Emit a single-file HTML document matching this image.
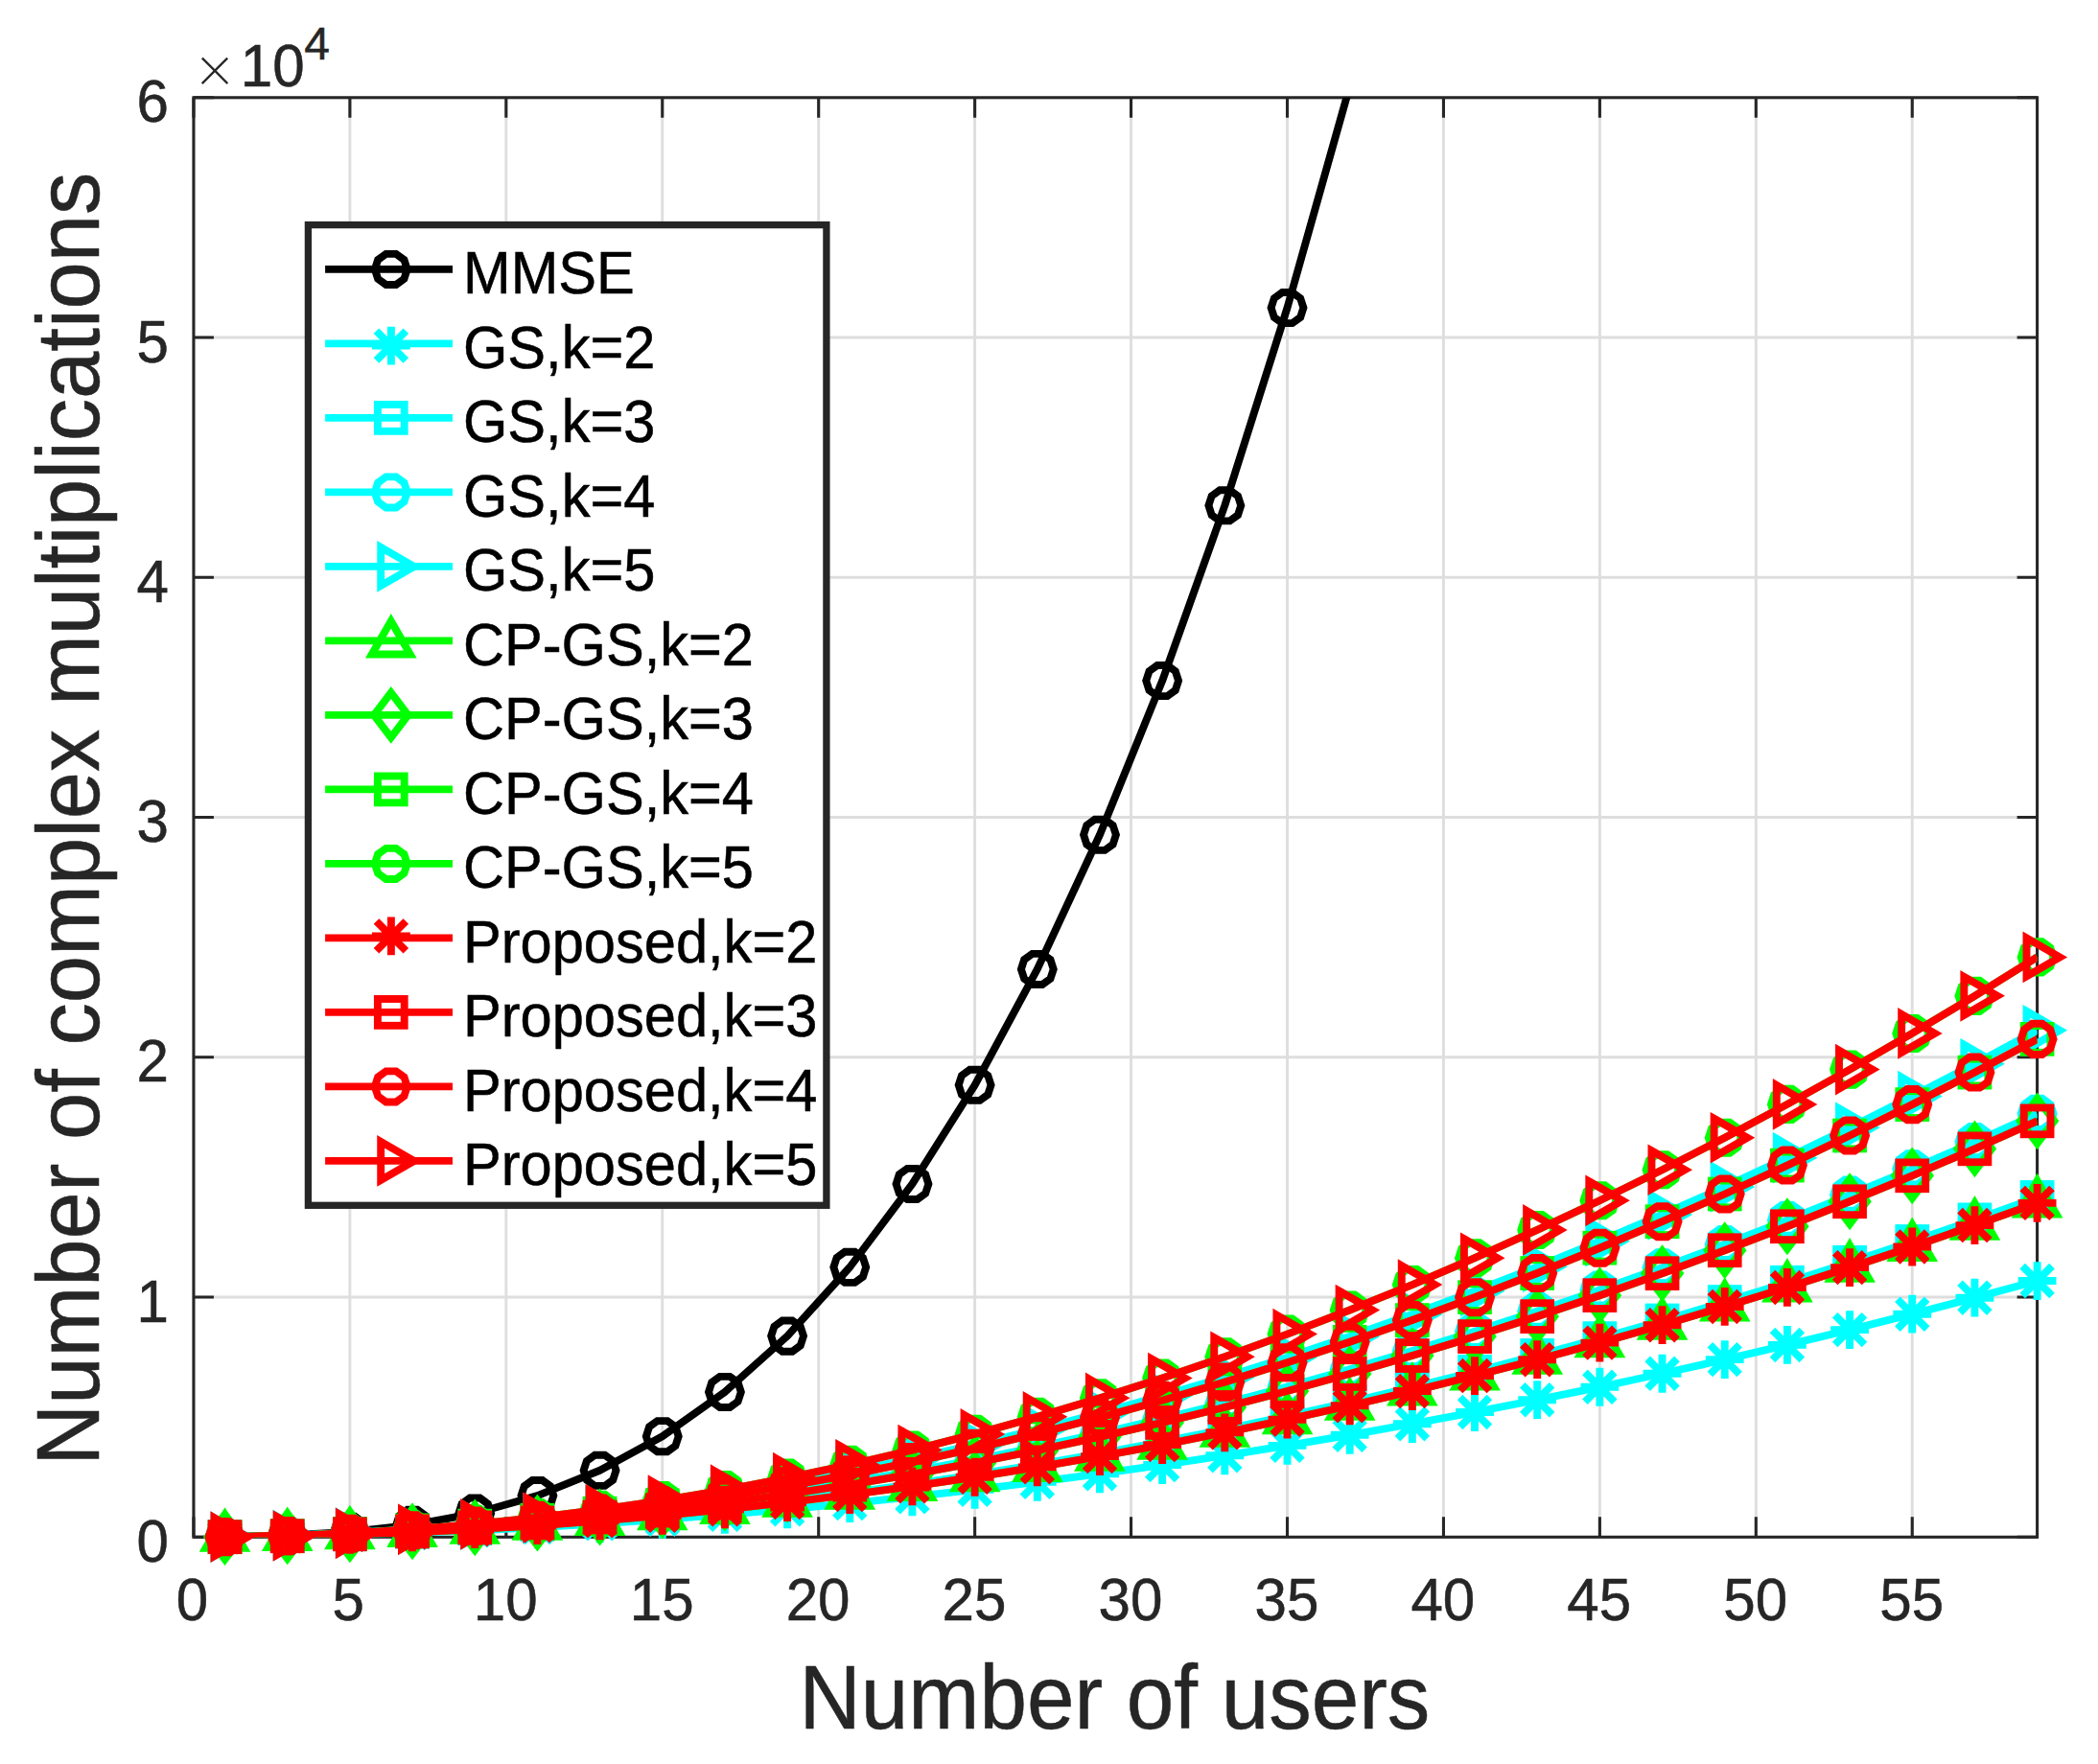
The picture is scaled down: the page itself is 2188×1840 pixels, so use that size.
<!DOCTYPE html>
<html lang="en"><head><meta charset="utf-8"><title>Number of complex multiplications vs number of users</title>
<style>html,body{margin:0;padding:0;background:#fff}body{width:2188px;height:1840px;overflow:hidden}svg{display:block}text{font-family:"Liberation Sans",Arial,Helvetica,sans-serif}</style></head><body>
<svg width="2188" height="1840" viewBox="0 0 2188 1840">
<rect width="2188" height="1840" fill="#fff"/>
<defs><clipPath id="ax"><rect x="201.95" y="101.8" width="1922.65" height="1501.5"/></clipPath></defs>
<path d="M364.89 101.8V1603.3M527.82 101.8V1603.3M690.76 101.8V1603.3M853.7 101.8V1603.3M1016.63 101.8V1603.3M1179.57 101.8V1603.3M1342.51 101.8V1603.3M1505.44 101.8V1603.3M1668.38 101.8V1603.3M1831.31 101.8V1603.3M1994.25 101.8V1603.3M201.95 1353.05H2124.6M201.95 1102.8H2124.6M201.95 852.55H2124.6M201.95 602.3H2124.6M201.95 352.05H2124.6" stroke="#dedede" stroke-width="2.9" fill="none"/>
<path d="M201.95 1603.3v-21M201.95 101.8v21M364.89 1603.3v-21M364.89 101.8v21M527.82 1603.3v-21M527.82 101.8v21M690.76 1603.3v-21M690.76 101.8v21M853.7 1603.3v-21M853.7 101.8v21M1016.63 1603.3v-21M1016.63 101.8v21M1179.57 1603.3v-21M1179.57 101.8v21M1342.51 1603.3v-21M1342.51 101.8v21M1505.44 1603.3v-21M1505.44 101.8v21M1668.38 1603.3v-21M1668.38 101.8v21M1831.31 1603.3v-21M1831.31 101.8v21M1994.25 1603.3v-21M1994.25 101.8v21M201.95 1603.3h21M2124.6 1603.3h-21M201.95 1353.05h21M2124.6 1353.05h-21M201.95 1102.8h21M2124.6 1102.8h-21M201.95 852.55h21M2124.6 852.55h-21M201.95 602.3h21M2124.6 602.3h-21M201.95 352.05h21M2124.6 352.05h-21M201.95 101.8h21M2124.6 101.8h-21" stroke="#262626" stroke-width="3.1" fill="none"/>
<rect x="201.95" y="101.8" width="1922.65" height="1501.5" fill="none" stroke="#262626" stroke-width="3.1"/>
<g><path d="M234.54 1602.93L299.71 1601.48L364.89 1597.89L430.06 1590.75L495.24 1578.64L560.41 1560.12L625.58 1533.78L690.76 1498.19L755.93 1451.94L821.11 1393.6L886.28 1321.75L951.46 1234.97L1016.63 1131.83L1081.81 1010.91L1146.98 870.79L1212.16 710.05L1277.33 527.27L1342.51 321.02L1407.68 89.88L1472.85 -167.57L1538.03 -452.76L1603.2 -767.1L1668.38 -1112.01L1733.55 -1488.93L1798.73 -1899.27L1863.9 -2344.45L1929.08 -2825.9" fill="none" stroke="#000000" stroke-width="7.9" stroke-linejoin="round" clip-path="url(#ax)"/>
<polygon points="251.44,1602.93 248.21,1612.86 239.76,1619 229.31,1619 220.86,1612.86 217.64,1602.93 220.86,1593 229.31,1586.86 239.76,1586.86 248.21,1593" fill="none" stroke="#000000" stroke-width="7.9" stroke-linejoin="miter"/>
<polygon points="316.61,1601.48 313.38,1611.41 304.93,1617.55 294.49,1617.55 286.04,1611.41 282.81,1601.48 286.04,1591.55 294.49,1585.41 304.93,1585.41 313.38,1591.55" fill="none" stroke="#000000" stroke-width="7.9" stroke-linejoin="miter"/>
<polygon points="381.79,1597.89 378.56,1607.83 370.11,1613.97 359.66,1613.97 351.21,1607.83 347.99,1597.89 351.21,1587.96 359.66,1581.82 370.11,1581.82 378.56,1587.96" fill="none" stroke="#000000" stroke-width="7.9" stroke-linejoin="miter"/>
<polygon points="446.96,1590.75 443.73,1600.69 435.28,1606.83 424.84,1606.83 416.39,1600.69 413.16,1590.75 416.39,1580.82 424.84,1574.68 435.28,1574.68 443.73,1580.82" fill="none" stroke="#000000" stroke-width="7.9" stroke-linejoin="miter"/>
<polygon points="512.14,1578.64 508.91,1588.57 500.46,1594.71 490.01,1594.71 481.56,1588.57 478.34,1578.64 481.56,1568.7 490.01,1562.56 500.46,1562.56 508.91,1568.7" fill="none" stroke="#000000" stroke-width="7.9" stroke-linejoin="miter"/>
<polygon points="577.31,1560.12 574.08,1570.05 565.63,1576.19 555.19,1576.19 546.74,1570.05 543.51,1560.12 546.74,1550.19 555.19,1544.05 565.63,1544.05 574.08,1550.19" fill="none" stroke="#000000" stroke-width="7.9" stroke-linejoin="miter"/>
<polygon points="642.48,1533.78 639.26,1543.71 630.81,1549.85 620.36,1549.85 611.91,1543.71 608.68,1533.78 611.91,1523.85 620.36,1517.71 630.81,1517.71 639.26,1523.85" fill="none" stroke="#000000" stroke-width="7.9" stroke-linejoin="miter"/>
<polygon points="707.66,1498.19 704.43,1508.13 695.98,1514.27 685.54,1514.27 677.09,1508.13 673.86,1498.19 677.09,1488.26 685.54,1482.12 695.98,1482.12 704.43,1488.26" fill="none" stroke="#000000" stroke-width="7.9" stroke-linejoin="miter"/>
<polygon points="772.83,1451.94 769.61,1461.88 761.16,1468.02 750.71,1468.02 742.26,1461.88 739.03,1451.94 742.26,1442.01 750.71,1435.87 761.16,1435.87 769.61,1442.01" fill="none" stroke="#000000" stroke-width="7.9" stroke-linejoin="miter"/>
<polygon points="838.01,1393.6 834.78,1403.54 826.33,1409.68 815.89,1409.68 807.44,1403.54 804.21,1393.6 807.44,1383.67 815.89,1377.53 826.33,1377.53 834.78,1383.67" fill="none" stroke="#000000" stroke-width="7.9" stroke-linejoin="miter"/>
<polygon points="903.18,1321.75 899.96,1331.69 891.51,1337.83 881.06,1337.83 872.61,1331.69 869.38,1321.75 872.61,1311.82 881.06,1305.68 891.51,1305.68 899.96,1311.82" fill="none" stroke="#000000" stroke-width="7.9" stroke-linejoin="miter"/>
<polygon points="968.36,1234.97 965.13,1244.9 956.68,1251.04 946.24,1251.04 937.79,1244.9 934.56,1234.97 937.79,1225.04 946.24,1218.9 956.68,1218.9 965.13,1225.04" fill="none" stroke="#000000" stroke-width="7.9" stroke-linejoin="miter"/>
<polygon points="1033.53,1131.83 1030.3,1141.76 1021.85,1147.9 1011.41,1147.9 1002.96,1141.76 999.73,1131.83 1002.96,1121.9 1011.41,1115.76 1021.85,1115.76 1030.3,1121.9" fill="none" stroke="#000000" stroke-width="7.9" stroke-linejoin="miter"/>
<polygon points="1098.71,1010.91 1095.48,1020.84 1087.03,1026.98 1076.58,1026.98 1068.13,1020.84 1064.91,1010.91 1068.13,1000.98 1076.58,994.84 1087.03,994.84 1095.48,1000.98" fill="none" stroke="#000000" stroke-width="7.9" stroke-linejoin="miter"/>
<polygon points="1163.88,870.79 1160.65,880.73 1152.2,886.87 1141.76,886.87 1133.31,880.73 1130.08,870.79 1133.31,860.86 1141.76,854.72 1152.2,854.72 1160.65,860.86" fill="none" stroke="#000000" stroke-width="7.9" stroke-linejoin="miter"/>
<polygon points="1229.06,710.05 1225.83,719.99 1217.38,726.13 1206.93,726.13 1198.48,719.99 1195.26,710.05 1198.48,700.12 1206.93,693.98 1217.38,693.98 1225.83,700.12" fill="none" stroke="#000000" stroke-width="7.9" stroke-linejoin="miter"/>
<polygon points="1294.23,527.27 1291,537.2 1282.55,543.34 1272.11,543.34 1263.66,537.2 1260.43,527.27 1263.66,517.34 1272.11,511.2 1282.55,511.2 1291,517.34" fill="none" stroke="#000000" stroke-width="7.9" stroke-linejoin="miter"/>
<polygon points="1359.41,321.02 1356.18,330.95 1347.73,337.09 1337.28,337.09 1328.83,330.95 1325.61,321.02 1328.83,311.09 1337.28,304.95 1347.73,304.95 1356.18,311.09" fill="none" stroke="#000000" stroke-width="7.9" stroke-linejoin="miter"/>
</g>
<g><path d="M234.54 1603.12L299.71 1602.32L364.89 1600.92L430.06 1598.92L495.24 1596.32L560.41 1593.11L625.58 1589.31L690.76 1584.91L755.93 1579.9L821.11 1574.3L886.28 1568.09L951.46 1561.28L1016.63 1553.88L1081.81 1545.87L1146.98 1537.26L1212.16 1528.05L1277.33 1518.24L1342.51 1507.83L1407.68 1496.82L1472.85 1485.21L1538.03 1472.99L1603.2 1460.18L1668.38 1446.77L1733.55 1432.75L1798.73 1418.14L1863.9 1402.92L1929.08 1387.11L1994.25 1370.69L2059.43 1353.68L2124.6 1336.06" fill="none" stroke="#00ffff" stroke-width="7.9" stroke-linejoin="round" clip-path="url(#ax)"/>
<path d="M214.64 1603.12H254.44M234.54 1583.22V1623.02M219.12 1587.71L249.95 1618.54M219.12 1618.54L249.95 1587.71" fill="none" stroke="#00ffff" stroke-width="7.9"/>
<path d="M279.81 1602.32H319.61M299.71 1582.42V1622.22M284.3 1586.91L315.13 1617.74M284.3 1617.74L315.13 1586.91" fill="none" stroke="#00ffff" stroke-width="7.9"/>
<path d="M344.99 1600.92H384.79M364.89 1581.02V1620.82M349.47 1585.51L380.3 1616.34M349.47 1616.34L380.3 1585.51" fill="none" stroke="#00ffff" stroke-width="7.9"/>
<path d="M410.16 1598.92H449.96M430.06 1579.02V1618.82M414.65 1583.51L445.48 1614.34M414.65 1614.34L445.48 1583.51" fill="none" stroke="#00ffff" stroke-width="7.9"/>
<path d="M475.34 1596.32H515.14M495.24 1576.42V1616.22M479.82 1580.9L510.65 1611.73M479.82 1611.73L510.65 1580.9" fill="none" stroke="#00ffff" stroke-width="7.9"/>
<path d="M540.51 1593.11H580.31M560.41 1573.21V1613.01M545 1577.7L575.83 1608.53M545 1608.53L575.83 1577.7" fill="none" stroke="#00ffff" stroke-width="7.9"/>
<path d="M605.68 1589.31H645.48M625.58 1569.41V1609.21M610.17 1573.9L641 1604.73M610.17 1604.73L641 1573.9" fill="none" stroke="#00ffff" stroke-width="7.9"/>
<path d="M670.86 1584.91H710.66M690.76 1565.01V1604.81M675.34 1569.49L706.17 1600.32M675.34 1600.32L706.17 1569.49" fill="none" stroke="#00ffff" stroke-width="7.9"/>
<path d="M736.03 1579.9H775.83M755.93 1560V1599.8M740.52 1564.49L771.35 1595.32M740.52 1595.32L771.35 1564.49" fill="none" stroke="#00ffff" stroke-width="7.9"/>
<path d="M801.21 1574.3H841.01M821.11 1554.4V1594.2M805.69 1558.88L836.52 1589.71M805.69 1589.71L836.52 1558.88" fill="none" stroke="#00ffff" stroke-width="7.9"/>
<path d="M866.38 1568.09H906.18M886.28 1548.19V1587.99M870.87 1552.67L901.7 1583.5M870.87 1583.5L901.7 1552.67" fill="none" stroke="#00ffff" stroke-width="7.9"/>
<path d="M931.56 1561.28H971.36M951.46 1541.38V1581.18M936.04 1545.87L966.87 1576.7M936.04 1576.7L966.87 1545.87" fill="none" stroke="#00ffff" stroke-width="7.9"/>
<path d="M996.73 1553.88H1036.53M1016.63 1533.98V1573.78M1001.22 1538.46L1032.05 1569.29M1001.22 1569.29L1032.05 1538.46" fill="none" stroke="#00ffff" stroke-width="7.9"/>
<path d="M1061.91 1545.87H1101.71M1081.81 1525.97V1565.77M1066.39 1530.45L1097.22 1561.28M1066.39 1561.28L1097.22 1530.45" fill="none" stroke="#00ffff" stroke-width="7.9"/>
<path d="M1127.08 1537.26H1166.88M1146.98 1517.36V1557.16M1131.57 1521.84L1162.4 1552.67M1131.57 1552.67L1162.4 1521.84" fill="none" stroke="#00ffff" stroke-width="7.9"/>
<path d="M1192.26 1528.05H1232.06M1212.16 1508.15V1547.95M1196.74 1512.63L1227.57 1543.46M1196.74 1543.46L1227.57 1512.63" fill="none" stroke="#00ffff" stroke-width="7.9"/>
<path d="M1257.43 1518.24H1297.23M1277.33 1498.34V1538.14M1261.92 1502.83L1292.75 1533.65M1261.92 1533.65L1292.75 1502.83" fill="none" stroke="#00ffff" stroke-width="7.9"/>
<path d="M1322.61 1507.83H1362.41M1342.51 1487.93V1527.73M1327.09 1492.41L1357.92 1523.24M1327.09 1523.24L1357.92 1492.41" fill="none" stroke="#00ffff" stroke-width="7.9"/>
<path d="M1387.78 1496.82H1427.58M1407.68 1476.92V1516.72M1392.26 1481.4L1423.09 1512.23M1392.26 1512.23L1423.09 1481.4" fill="none" stroke="#00ffff" stroke-width="7.9"/>
<path d="M1452.95 1485.21H1492.75M1472.85 1465.31V1505.11M1457.44 1469.79L1488.27 1500.62M1457.44 1500.62L1488.27 1469.79" fill="none" stroke="#00ffff" stroke-width="7.9"/>
<path d="M1518.13 1472.99H1557.93M1538.03 1453.09V1492.89M1522.61 1457.58L1553.44 1488.41M1522.61 1488.41L1553.44 1457.58" fill="none" stroke="#00ffff" stroke-width="7.9"/>
<path d="M1583.3 1460.18H1623.1M1603.2 1440.28V1480.08M1587.79 1444.77L1618.62 1475.6M1587.79 1475.6L1618.62 1444.77" fill="none" stroke="#00ffff" stroke-width="7.9"/>
<path d="M1648.48 1446.77H1688.28M1668.38 1426.87V1466.67M1652.96 1431.35L1683.79 1462.18M1652.96 1462.18L1683.79 1431.35" fill="none" stroke="#00ffff" stroke-width="7.9"/>
<path d="M1713.65 1432.75H1753.45M1733.55 1412.85V1452.65M1718.14 1417.34L1748.97 1448.17M1718.14 1448.17L1748.97 1417.34" fill="none" stroke="#00ffff" stroke-width="7.9"/>
<path d="M1778.83 1418.14H1818.63M1798.73 1398.24V1438.04M1783.31 1402.73L1814.14 1433.55M1783.31 1433.55L1814.14 1402.73" fill="none" stroke="#00ffff" stroke-width="7.9"/>
<path d="M1844 1402.92H1883.8M1863.9 1383.02V1422.82M1848.49 1387.51L1879.32 1418.34M1848.49 1418.34L1879.32 1387.51" fill="none" stroke="#00ffff" stroke-width="7.9"/>
<path d="M1909.18 1387.11H1948.98M1929.08 1367.21V1407.01M1913.66 1371.69L1944.49 1402.52M1913.66 1402.52L1944.49 1371.69" fill="none" stroke="#00ffff" stroke-width="7.9"/>
<path d="M1974.35 1370.69H2014.15M1994.25 1350.79V1390.59M1978.84 1355.28L2009.67 1386.11M1978.84 1386.11L2009.67 1355.28" fill="none" stroke="#00ffff" stroke-width="7.9"/>
<path d="M2039.53 1353.68H2079.33M2059.43 1333.78V1373.58M2044.01 1338.26L2074.84 1369.09M2044.01 1369.09L2074.84 1338.26" fill="none" stroke="#00ffff" stroke-width="7.9"/>
<path d="M2104.7 1336.06H2144.5M2124.6 1316.16V1355.96M2109.19 1320.64L2140.01 1351.47M2109.19 1351.47L2140.01 1320.64" fill="none" stroke="#00ffff" stroke-width="7.9"/>
</g>
<g><path d="M234.54 1603.1L299.71 1602.1L364.89 1600.3L430.06 1597.69L495.24 1594.29L560.41 1590.09L625.58 1585.08L690.76 1579.28L755.93 1572.67L821.11 1565.26L886.28 1557.05L951.46 1548.04L1016.63 1538.23L1081.81 1527.62L1146.98 1516.21L1212.16 1504L1277.33 1490.99L1342.51 1477.17L1407.68 1462.56L1472.85 1447.14L1538.03 1430.93L1603.2 1413.91L1668.38 1396.09L1733.55 1377.47L1798.73 1358.05L1863.9 1337.83L1929.08 1316.81L1994.25 1294.99L2059.43 1272.37L2124.6 1248.95" fill="none" stroke="#00ffff" stroke-width="7.9" stroke-linejoin="round" clip-path="url(#ax)"/>
<rect x="220.64" y="1589.2" width="27.8" height="27.8" fill="none" stroke="#00ffff" stroke-width="7.9"/>
<rect x="285.81" y="1588.2" width="27.8" height="27.8" fill="none" stroke="#00ffff" stroke-width="7.9"/>
<rect x="350.99" y="1586.4" width="27.8" height="27.8" fill="none" stroke="#00ffff" stroke-width="7.9"/>
<rect x="416.16" y="1583.79" width="27.8" height="27.8" fill="none" stroke="#00ffff" stroke-width="7.9"/>
<rect x="481.34" y="1580.39" width="27.8" height="27.8" fill="none" stroke="#00ffff" stroke-width="7.9"/>
<rect x="546.51" y="1576.19" width="27.8" height="27.8" fill="none" stroke="#00ffff" stroke-width="7.9"/>
<rect x="611.68" y="1571.18" width="27.8" height="27.8" fill="none" stroke="#00ffff" stroke-width="7.9"/>
<rect x="676.86" y="1565.38" width="27.8" height="27.8" fill="none" stroke="#00ffff" stroke-width="7.9"/>
<rect x="742.03" y="1558.77" width="27.8" height="27.8" fill="none" stroke="#00ffff" stroke-width="7.9"/>
<rect x="807.21" y="1551.36" width="27.8" height="27.8" fill="none" stroke="#00ffff" stroke-width="7.9"/>
<rect x="872.38" y="1543.15" width="27.8" height="27.8" fill="none" stroke="#00ffff" stroke-width="7.9"/>
<rect x="937.56" y="1534.14" width="27.8" height="27.8" fill="none" stroke="#00ffff" stroke-width="7.9"/>
<rect x="1002.73" y="1524.33" width="27.8" height="27.8" fill="none" stroke="#00ffff" stroke-width="7.9"/>
<rect x="1067.91" y="1513.72" width="27.8" height="27.8" fill="none" stroke="#00ffff" stroke-width="7.9"/>
<rect x="1133.08" y="1502.31" width="27.8" height="27.8" fill="none" stroke="#00ffff" stroke-width="7.9"/>
<rect x="1198.26" y="1490.1" width="27.8" height="27.8" fill="none" stroke="#00ffff" stroke-width="7.9"/>
<rect x="1263.43" y="1477.09" width="27.8" height="27.8" fill="none" stroke="#00ffff" stroke-width="7.9"/>
<rect x="1328.61" y="1463.27" width="27.8" height="27.8" fill="none" stroke="#00ffff" stroke-width="7.9"/>
<rect x="1393.78" y="1448.66" width="27.8" height="27.8" fill="none" stroke="#00ffff" stroke-width="7.9"/>
<rect x="1458.95" y="1433.24" width="27.8" height="27.8" fill="none" stroke="#00ffff" stroke-width="7.9"/>
<rect x="1524.13" y="1417.03" width="27.8" height="27.8" fill="none" stroke="#00ffff" stroke-width="7.9"/>
<rect x="1589.3" y="1400.01" width="27.8" height="27.8" fill="none" stroke="#00ffff" stroke-width="7.9"/>
<rect x="1654.48" y="1382.19" width="27.8" height="27.8" fill="none" stroke="#00ffff" stroke-width="7.9"/>
<rect x="1719.65" y="1363.57" width="27.8" height="27.8" fill="none" stroke="#00ffff" stroke-width="7.9"/>
<rect x="1784.83" y="1344.15" width="27.8" height="27.8" fill="none" stroke="#00ffff" stroke-width="7.9"/>
<rect x="1850" y="1323.93" width="27.8" height="27.8" fill="none" stroke="#00ffff" stroke-width="7.9"/>
<rect x="1915.18" y="1302.91" width="27.8" height="27.8" fill="none" stroke="#00ffff" stroke-width="7.9"/>
<rect x="1980.35" y="1281.09" width="27.8" height="27.8" fill="none" stroke="#00ffff" stroke-width="7.9"/>
<rect x="2045.53" y="1258.47" width="27.8" height="27.8" fill="none" stroke="#00ffff" stroke-width="7.9"/>
<rect x="2110.7" y="1235.05" width="27.8" height="27.8" fill="none" stroke="#00ffff" stroke-width="7.9"/>
</g>
<g><path d="M234.54 1603.07L299.71 1601.87L364.89 1599.67L430.06 1596.47L495.24 1592.26L560.41 1587.06L625.58 1580.85L690.76 1573.65L755.93 1565.44L821.11 1556.23L886.28 1546.02L951.46 1534.81L1016.63 1522.59L1081.81 1509.38L1146.98 1495.17L1212.16 1479.95L1277.33 1463.74L1342.51 1446.52L1407.68 1428.3L1472.85 1409.08L1538.03 1388.86L1603.2 1367.64L1668.38 1345.42L1733.55 1322.19L1798.73 1297.97L1863.9 1272.74L1929.08 1246.52L1994.25 1219.29L2059.43 1191.06L2124.6 1161.83" fill="none" stroke="#00ffff" stroke-width="7.9" stroke-linejoin="round" clip-path="url(#ax)"/>
<polygon points="251.44,1603.07 248.21,1613.01 239.76,1619.15 229.31,1619.15 220.86,1613.01 217.64,1603.07 220.86,1593.14 229.31,1587 239.76,1587 248.21,1593.14" fill="none" stroke="#00ffff" stroke-width="7.9" stroke-linejoin="miter"/>
<polygon points="316.61,1601.87 313.38,1611.81 304.93,1617.95 294.49,1617.95 286.04,1611.81 282.81,1601.87 286.04,1591.94 294.49,1585.8 304.93,1585.8 313.38,1591.94" fill="none" stroke="#00ffff" stroke-width="7.9" stroke-linejoin="miter"/>
<polygon points="381.79,1599.67 378.56,1609.6 370.11,1615.74 359.66,1615.74 351.21,1609.6 347.99,1599.67 351.21,1589.74 359.66,1583.6 370.11,1583.6 378.56,1589.74" fill="none" stroke="#00ffff" stroke-width="7.9" stroke-linejoin="miter"/>
<polygon points="446.96,1596.47 443.73,1606.4 435.28,1612.54 424.84,1612.54 416.39,1606.4 413.16,1596.47 416.39,1586.53 424.84,1580.4 435.28,1580.4 443.73,1586.53" fill="none" stroke="#00ffff" stroke-width="7.9" stroke-linejoin="miter"/>
<polygon points="512.14,1592.26 508.91,1602.2 500.46,1608.34 490.01,1608.34 481.56,1602.2 478.34,1592.26 481.56,1582.33 490.01,1576.19 500.46,1576.19 508.91,1582.33" fill="none" stroke="#00ffff" stroke-width="7.9" stroke-linejoin="miter"/>
<polygon points="577.31,1587.06 574.08,1596.99 565.63,1603.13 555.19,1603.13 546.74,1596.99 543.51,1587.06 546.74,1577.13 555.19,1570.99 565.63,1570.99 574.08,1577.13" fill="none" stroke="#00ffff" stroke-width="7.9" stroke-linejoin="miter"/>
<polygon points="642.48,1580.85 639.26,1590.79 630.81,1596.93 620.36,1596.93 611.91,1590.79 608.68,1580.85 611.91,1570.92 620.36,1564.78 630.81,1564.78 639.26,1570.92" fill="none" stroke="#00ffff" stroke-width="7.9" stroke-linejoin="miter"/>
<polygon points="707.66,1573.65 704.43,1583.58 695.98,1589.72 685.54,1589.72 677.09,1583.58 673.86,1573.65 677.09,1563.71 685.54,1557.57 695.98,1557.57 704.43,1563.71" fill="none" stroke="#00ffff" stroke-width="7.9" stroke-linejoin="miter"/>
<polygon points="772.83,1565.44 769.61,1575.37 761.16,1581.51 750.71,1581.51 742.26,1575.37 739.03,1565.44 742.26,1555.5 750.71,1549.36 761.16,1549.36 769.61,1555.5" fill="none" stroke="#00ffff" stroke-width="7.9" stroke-linejoin="miter"/>
<polygon points="838.01,1556.23 834.78,1566.16 826.33,1572.3 815.89,1572.3 807.44,1566.16 804.21,1556.23 807.44,1546.29 815.89,1540.16 826.33,1540.16 834.78,1546.29" fill="none" stroke="#00ffff" stroke-width="7.9" stroke-linejoin="miter"/>
<polygon points="903.18,1546.02 899.96,1555.95 891.51,1562.09 881.06,1562.09 872.61,1555.95 869.38,1546.02 872.61,1536.08 881.06,1529.94 891.51,1529.94 899.96,1536.08" fill="none" stroke="#00ffff" stroke-width="7.9" stroke-linejoin="miter"/>
<polygon points="968.36,1534.81 965.13,1544.74 956.68,1550.88 946.24,1550.88 937.79,1544.74 934.56,1534.81 937.79,1524.87 946.24,1518.73 956.68,1518.73 965.13,1524.87" fill="none" stroke="#00ffff" stroke-width="7.9" stroke-linejoin="miter"/>
<polygon points="1033.53,1522.59 1030.3,1532.53 1021.85,1538.67 1011.41,1538.67 1002.96,1532.53 999.73,1522.59 1002.96,1512.66 1011.41,1506.52 1021.85,1506.52 1030.3,1512.66" fill="none" stroke="#00ffff" stroke-width="7.9" stroke-linejoin="miter"/>
<polygon points="1098.71,1509.38 1095.48,1519.31 1087.03,1525.45 1076.58,1525.45 1068.13,1519.31 1064.91,1509.38 1068.13,1499.45 1076.58,1493.31 1087.03,1493.31 1095.48,1499.45" fill="none" stroke="#00ffff" stroke-width="7.9" stroke-linejoin="miter"/>
<polygon points="1163.88,1495.17 1160.65,1505.1 1152.2,1511.24 1141.76,1511.24 1133.31,1505.1 1130.08,1495.17 1133.31,1485.23 1141.76,1479.09 1152.2,1479.09 1160.65,1485.23" fill="none" stroke="#00ffff" stroke-width="7.9" stroke-linejoin="miter"/>
<polygon points="1229.06,1479.95 1225.83,1489.89 1217.38,1496.02 1206.93,1496.02 1198.48,1489.89 1195.26,1479.95 1198.48,1470.02 1206.93,1463.88 1217.38,1463.88 1225.83,1470.02" fill="none" stroke="#00ffff" stroke-width="7.9" stroke-linejoin="miter"/>
<polygon points="1294.23,1463.74 1291,1473.67 1282.55,1479.81 1272.11,1479.81 1263.66,1473.67 1260.43,1463.74 1263.66,1453.8 1272.11,1447.66 1282.55,1447.66 1291,1453.8" fill="none" stroke="#00ffff" stroke-width="7.9" stroke-linejoin="miter"/>
<polygon points="1359.41,1446.52 1356.18,1456.45 1347.73,1462.59 1337.28,1462.59 1328.83,1456.45 1325.61,1446.52 1328.83,1436.58 1337.28,1430.45 1347.73,1430.45 1356.18,1436.58" fill="none" stroke="#00ffff" stroke-width="7.9" stroke-linejoin="miter"/>
<polygon points="1424.58,1428.3 1421.35,1438.23 1412.9,1444.37 1402.46,1444.37 1394.01,1438.23 1390.78,1428.3 1394.01,1418.37 1402.46,1412.23 1412.9,1412.23 1421.35,1418.37" fill="none" stroke="#00ffff" stroke-width="7.9" stroke-linejoin="miter"/>
<polygon points="1489.75,1409.08 1486.53,1419.01 1478.08,1425.15 1467.63,1425.15 1459.18,1419.01 1455.95,1409.08 1459.18,1399.15 1467.63,1393.01 1478.08,1393.01 1486.53,1399.15" fill="none" stroke="#00ffff" stroke-width="7.9" stroke-linejoin="miter"/>
<polygon points="1554.93,1388.86 1551.7,1398.79 1543.25,1404.93 1532.81,1404.93 1524.36,1398.79 1521.13,1388.86 1524.36,1378.93 1532.81,1372.79 1543.25,1372.79 1551.7,1378.93" fill="none" stroke="#00ffff" stroke-width="7.9" stroke-linejoin="miter"/>
<polygon points="1620.1,1367.64 1616.88,1377.57 1608.43,1383.71 1597.98,1383.71 1589.53,1377.57 1586.3,1367.64 1589.53,1357.71 1597.98,1351.57 1608.43,1351.57 1616.88,1357.71" fill="none" stroke="#00ffff" stroke-width="7.9" stroke-linejoin="miter"/>
<polygon points="1685.28,1345.42 1682.05,1355.35 1673.6,1361.49 1663.16,1361.49 1654.71,1355.35 1651.48,1345.42 1654.71,1335.48 1663.16,1329.34 1673.6,1329.34 1682.05,1335.48" fill="none" stroke="#00ffff" stroke-width="7.9" stroke-linejoin="miter"/>
<polygon points="1750.45,1322.19 1747.22,1332.13 1738.77,1338.27 1728.33,1338.27 1719.88,1332.13 1716.65,1322.19 1719.88,1312.26 1728.33,1306.12 1738.77,1306.12 1747.22,1312.26" fill="none" stroke="#00ffff" stroke-width="7.9" stroke-linejoin="miter"/>
<polygon points="1815.63,1297.97 1812.4,1307.9 1803.95,1314.04 1793.5,1314.04 1785.05,1307.9 1781.83,1297.97 1785.05,1288.04 1793.5,1281.9 1803.95,1281.9 1812.4,1288.04" fill="none" stroke="#00ffff" stroke-width="7.9" stroke-linejoin="miter"/>
<polygon points="1880.8,1272.74 1877.57,1282.68 1869.12,1288.82 1858.68,1288.82 1850.23,1282.68 1847,1272.74 1850.23,1262.81 1858.68,1256.67 1869.12,1256.67 1877.57,1262.81" fill="none" stroke="#00ffff" stroke-width="7.9" stroke-linejoin="miter"/>
<polygon points="1945.98,1246.52 1942.75,1256.45 1934.3,1262.59 1923.85,1262.59 1915.4,1256.45 1912.18,1246.52 1915.4,1236.59 1923.85,1230.45 1934.3,1230.45 1942.75,1236.59" fill="none" stroke="#00ffff" stroke-width="7.9" stroke-linejoin="miter"/>
<polygon points="2011.15,1219.29 2007.92,1229.22 1999.47,1235.36 1989.03,1235.36 1980.58,1229.22 1977.35,1219.29 1980.58,1209.36 1989.03,1203.22 1999.47,1203.22 2007.92,1209.36" fill="none" stroke="#00ffff" stroke-width="7.9" stroke-linejoin="miter"/>
<polygon points="2076.33,1191.06 2073.1,1201 2064.65,1207.14 2054.2,1207.14 2045.75,1201 2042.53,1191.06 2045.75,1181.13 2054.2,1174.99 2064.65,1174.99 2073.1,1181.13" fill="none" stroke="#00ffff" stroke-width="7.9" stroke-linejoin="miter"/>
<polygon points="2141.5,1161.83 2138.27,1171.77 2129.82,1177.91 2119.38,1177.91 2110.93,1171.77 2107.7,1161.83 2110.93,1151.9 2119.38,1145.76 2129.82,1145.76 2138.27,1151.9" fill="none" stroke="#00ffff" stroke-width="7.9" stroke-linejoin="miter"/>
</g>
<g><path d="M234.54 1603.05L299.71 1601.65L364.89 1599.05L430.06 1595.24L495.24 1590.24L560.41 1584.03L625.58 1576.62L690.76 1568.01L755.93 1558.2L821.11 1547.19L886.28 1534.98L951.46 1521.57L1016.63 1506.95L1081.81 1491.14L1146.98 1474.12L1212.16 1455.9L1277.33 1436.48L1342.51 1415.86L1407.68 1394.04L1472.85 1371.02L1538.03 1346.79L1603.2 1321.37L1668.38 1294.74L1733.55 1266.91L1798.73 1237.88L1863.9 1207.65L1929.08 1176.22L1994.25 1143.59L2059.43 1109.76L2124.6 1074.72" fill="none" stroke="#00ffff" stroke-width="7.9" stroke-linejoin="round" clip-path="url(#ax)"/>
<polygon points="223.44,1583.05 258.14,1603.05 223.44,1623.05" fill="none" stroke="#00ffff" stroke-width="7.9" stroke-linejoin="miter" stroke-miterlimit="10"/>
<polygon points="288.61,1581.65 323.31,1601.65 288.61,1621.65" fill="none" stroke="#00ffff" stroke-width="7.9" stroke-linejoin="miter" stroke-miterlimit="10"/>
<polygon points="353.79,1579.05 388.49,1599.05 353.79,1619.05" fill="none" stroke="#00ffff" stroke-width="7.9" stroke-linejoin="miter" stroke-miterlimit="10"/>
<polygon points="418.96,1575.24 453.66,1595.24 418.96,1615.24" fill="none" stroke="#00ffff" stroke-width="7.9" stroke-linejoin="miter" stroke-miterlimit="10"/>
<polygon points="484.14,1570.24 518.84,1590.24 484.14,1610.24" fill="none" stroke="#00ffff" stroke-width="7.9" stroke-linejoin="miter" stroke-miterlimit="10"/>
<polygon points="549.31,1564.03 584.01,1584.03 549.31,1604.03" fill="none" stroke="#00ffff" stroke-width="7.9" stroke-linejoin="miter" stroke-miterlimit="10"/>
<polygon points="614.48,1556.62 649.18,1576.62 614.48,1596.62" fill="none" stroke="#00ffff" stroke-width="7.9" stroke-linejoin="miter" stroke-miterlimit="10"/>
<polygon points="679.66,1548.01 714.36,1568.01 679.66,1588.01" fill="none" stroke="#00ffff" stroke-width="7.9" stroke-linejoin="miter" stroke-miterlimit="10"/>
<polygon points="744.83,1538.2 779.53,1558.2 744.83,1578.2" fill="none" stroke="#00ffff" stroke-width="7.9" stroke-linejoin="miter" stroke-miterlimit="10"/>
<polygon points="810.01,1527.19 844.71,1547.19 810.01,1567.19" fill="none" stroke="#00ffff" stroke-width="7.9" stroke-linejoin="miter" stroke-miterlimit="10"/>
<polygon points="875.18,1514.98 909.88,1534.98 875.18,1554.98" fill="none" stroke="#00ffff" stroke-width="7.9" stroke-linejoin="miter" stroke-miterlimit="10"/>
<polygon points="940.36,1501.57 975.06,1521.57 940.36,1541.57" fill="none" stroke="#00ffff" stroke-width="7.9" stroke-linejoin="miter" stroke-miterlimit="10"/>
<polygon points="1005.53,1486.95 1040.23,1506.95 1005.53,1526.95" fill="none" stroke="#00ffff" stroke-width="7.9" stroke-linejoin="miter" stroke-miterlimit="10"/>
<polygon points="1070.71,1471.14 1105.41,1491.14 1070.71,1511.14" fill="none" stroke="#00ffff" stroke-width="7.9" stroke-linejoin="miter" stroke-miterlimit="10"/>
<polygon points="1135.88,1454.12 1170.58,1474.12 1135.88,1494.12" fill="none" stroke="#00ffff" stroke-width="7.9" stroke-linejoin="miter" stroke-miterlimit="10"/>
<polygon points="1201.06,1435.9 1235.76,1455.9 1201.06,1475.9" fill="none" stroke="#00ffff" stroke-width="7.9" stroke-linejoin="miter" stroke-miterlimit="10"/>
<polygon points="1266.23,1416.48 1300.93,1436.48 1266.23,1456.48" fill="none" stroke="#00ffff" stroke-width="7.9" stroke-linejoin="miter" stroke-miterlimit="10"/>
<polygon points="1331.41,1395.86 1366.11,1415.86 1331.41,1435.86" fill="none" stroke="#00ffff" stroke-width="7.9" stroke-linejoin="miter" stroke-miterlimit="10"/>
<polygon points="1396.58,1374.04 1431.28,1394.04 1396.58,1414.04" fill="none" stroke="#00ffff" stroke-width="7.9" stroke-linejoin="miter" stroke-miterlimit="10"/>
<polygon points="1461.75,1351.02 1496.45,1371.02 1461.75,1391.02" fill="none" stroke="#00ffff" stroke-width="7.9" stroke-linejoin="miter" stroke-miterlimit="10"/>
<polygon points="1526.93,1326.79 1561.63,1346.79 1526.93,1366.79" fill="none" stroke="#00ffff" stroke-width="7.9" stroke-linejoin="miter" stroke-miterlimit="10"/>
<polygon points="1592.1,1301.37 1626.8,1321.37 1592.1,1341.37" fill="none" stroke="#00ffff" stroke-width="7.9" stroke-linejoin="miter" stroke-miterlimit="10"/>
<polygon points="1657.28,1274.74 1691.98,1294.74 1657.28,1314.74" fill="none" stroke="#00ffff" stroke-width="7.9" stroke-linejoin="miter" stroke-miterlimit="10"/>
<polygon points="1722.45,1246.91 1757.15,1266.91 1722.45,1286.91" fill="none" stroke="#00ffff" stroke-width="7.9" stroke-linejoin="miter" stroke-miterlimit="10"/>
<polygon points="1787.63,1217.88 1822.33,1237.88 1787.63,1257.88" fill="none" stroke="#00ffff" stroke-width="7.9" stroke-linejoin="miter" stroke-miterlimit="10"/>
<polygon points="1852.8,1187.65 1887.5,1207.65 1852.8,1227.65" fill="none" stroke="#00ffff" stroke-width="7.9" stroke-linejoin="miter" stroke-miterlimit="10"/>
<polygon points="1917.98,1156.22 1952.68,1176.22 1917.98,1196.22" fill="none" stroke="#00ffff" stroke-width="7.9" stroke-linejoin="miter" stroke-miterlimit="10"/>
<polygon points="1983.15,1123.59 2017.85,1143.59 1983.15,1163.59" fill="none" stroke="#00ffff" stroke-width="7.9" stroke-linejoin="miter" stroke-miterlimit="10"/>
<polygon points="2048.33,1089.76 2083.03,1109.76 2048.33,1129.76" fill="none" stroke="#00ffff" stroke-width="7.9" stroke-linejoin="miter" stroke-miterlimit="10"/>
<polygon points="2113.5,1054.72 2148.2,1074.72 2113.5,1094.72" fill="none" stroke="#00ffff" stroke-width="7.9" stroke-linejoin="miter" stroke-miterlimit="10"/>
</g>
<g><path d="M234.54 1603.2L299.71 1602.4L364.89 1600.8L430.06 1598.4L495.24 1595.19L560.41 1591.19L625.58 1586.38L690.76 1580.78L755.93 1574.37L821.11 1567.16L886.28 1559.16L951.46 1550.35L1016.63 1540.74L1081.81 1530.33L1146.98 1519.12L1212.16 1507.1L1277.33 1494.29L1342.51 1480.68L1407.68 1466.26L1472.85 1451.05L1538.03 1435.03L1603.2 1418.22L1668.38 1400.6L1733.55 1382.18L1798.73 1362.96L1863.9 1342.94L1929.08 1322.12L1994.25 1300.5L2059.43 1278.08L2124.6 1254.85" fill="none" stroke="#00ff00" stroke-width="7.9" stroke-linejoin="round" clip-path="url(#ax)"/>
<polygon points="214.54,1614.8 234.54,1580.1 254.54,1614.8" fill="none" stroke="#00ff00" stroke-width="7.9" stroke-linejoin="miter" stroke-miterlimit="10"/>
<polygon points="279.71,1614 299.71,1579.3 319.71,1614" fill="none" stroke="#00ff00" stroke-width="7.9" stroke-linejoin="miter" stroke-miterlimit="10"/>
<polygon points="344.89,1612.4 364.89,1577.7 384.89,1612.4" fill="none" stroke="#00ff00" stroke-width="7.9" stroke-linejoin="miter" stroke-miterlimit="10"/>
<polygon points="410.06,1610 430.06,1575.3 450.06,1610" fill="none" stroke="#00ff00" stroke-width="7.9" stroke-linejoin="miter" stroke-miterlimit="10"/>
<polygon points="475.24,1606.79 495.24,1572.09 515.24,1606.79" fill="none" stroke="#00ff00" stroke-width="7.9" stroke-linejoin="miter" stroke-miterlimit="10"/>
<polygon points="540.41,1602.79 560.41,1568.09 580.41,1602.79" fill="none" stroke="#00ff00" stroke-width="7.9" stroke-linejoin="miter" stroke-miterlimit="10"/>
<polygon points="605.58,1597.98 625.58,1563.28 645.58,1597.98" fill="none" stroke="#00ff00" stroke-width="7.9" stroke-linejoin="miter" stroke-miterlimit="10"/>
<polygon points="670.76,1592.38 690.76,1557.68 710.76,1592.38" fill="none" stroke="#00ff00" stroke-width="7.9" stroke-linejoin="miter" stroke-miterlimit="10"/>
<polygon points="735.93,1585.97 755.93,1551.27 775.93,1585.97" fill="none" stroke="#00ff00" stroke-width="7.9" stroke-linejoin="miter" stroke-miterlimit="10"/>
<polygon points="801.11,1578.76 821.11,1544.06 841.11,1578.76" fill="none" stroke="#00ff00" stroke-width="7.9" stroke-linejoin="miter" stroke-miterlimit="10"/>
<polygon points="866.28,1570.76 886.28,1536.06 906.28,1570.76" fill="none" stroke="#00ff00" stroke-width="7.9" stroke-linejoin="miter" stroke-miterlimit="10"/>
<polygon points="931.46,1561.95 951.46,1527.25 971.46,1561.95" fill="none" stroke="#00ff00" stroke-width="7.9" stroke-linejoin="miter" stroke-miterlimit="10"/>
<polygon points="996.63,1552.34 1016.63,1517.64 1036.63,1552.34" fill="none" stroke="#00ff00" stroke-width="7.9" stroke-linejoin="miter" stroke-miterlimit="10"/>
<polygon points="1061.81,1541.93 1081.81,1507.23 1101.81,1541.93" fill="none" stroke="#00ff00" stroke-width="7.9" stroke-linejoin="miter" stroke-miterlimit="10"/>
<polygon points="1126.98,1530.72 1146.98,1496.02 1166.98,1530.72" fill="none" stroke="#00ff00" stroke-width="7.9" stroke-linejoin="miter" stroke-miterlimit="10"/>
<polygon points="1192.16,1518.7 1212.16,1484 1232.16,1518.7" fill="none" stroke="#00ff00" stroke-width="7.9" stroke-linejoin="miter" stroke-miterlimit="10"/>
<polygon points="1257.33,1505.89 1277.33,1471.19 1297.33,1505.89" fill="none" stroke="#00ff00" stroke-width="7.9" stroke-linejoin="miter" stroke-miterlimit="10"/>
<polygon points="1322.51,1492.28 1342.51,1457.58 1362.51,1492.28" fill="none" stroke="#00ff00" stroke-width="7.9" stroke-linejoin="miter" stroke-miterlimit="10"/>
<polygon points="1387.68,1477.86 1407.68,1443.16 1427.68,1477.86" fill="none" stroke="#00ff00" stroke-width="7.9" stroke-linejoin="miter" stroke-miterlimit="10"/>
<polygon points="1452.85,1462.65 1472.85,1427.95 1492.85,1462.65" fill="none" stroke="#00ff00" stroke-width="7.9" stroke-linejoin="miter" stroke-miterlimit="10"/>
<polygon points="1518.03,1446.63 1538.03,1411.93 1558.03,1446.63" fill="none" stroke="#00ff00" stroke-width="7.9" stroke-linejoin="miter" stroke-miterlimit="10"/>
<polygon points="1583.2,1429.82 1603.2,1395.12 1623.2,1429.82" fill="none" stroke="#00ff00" stroke-width="7.9" stroke-linejoin="miter" stroke-miterlimit="10"/>
<polygon points="1648.38,1412.2 1668.38,1377.5 1688.38,1412.2" fill="none" stroke="#00ff00" stroke-width="7.9" stroke-linejoin="miter" stroke-miterlimit="10"/>
<polygon points="1713.55,1393.78 1733.55,1359.08 1753.55,1393.78" fill="none" stroke="#00ff00" stroke-width="7.9" stroke-linejoin="miter" stroke-miterlimit="10"/>
<polygon points="1778.73,1374.56 1798.73,1339.86 1818.73,1374.56" fill="none" stroke="#00ff00" stroke-width="7.9" stroke-linejoin="miter" stroke-miterlimit="10"/>
<polygon points="1843.9,1354.54 1863.9,1319.84 1883.9,1354.54" fill="none" stroke="#00ff00" stroke-width="7.9" stroke-linejoin="miter" stroke-miterlimit="10"/>
<polygon points="1909.08,1333.72 1929.08,1299.02 1949.08,1333.72" fill="none" stroke="#00ff00" stroke-width="7.9" stroke-linejoin="miter" stroke-miterlimit="10"/>
<polygon points="1974.25,1312.1 1994.25,1277.4 2014.25,1312.1" fill="none" stroke="#00ff00" stroke-width="7.9" stroke-linejoin="miter" stroke-miterlimit="10"/>
<polygon points="2039.43,1289.68 2059.43,1254.98 2079.43,1289.68" fill="none" stroke="#00ff00" stroke-width="7.9" stroke-linejoin="miter" stroke-miterlimit="10"/>
<polygon points="2104.6,1266.45 2124.6,1231.75 2144.6,1266.45" fill="none" stroke="#00ff00" stroke-width="7.9" stroke-linejoin="miter" stroke-miterlimit="10"/>
</g>
<g><path d="M234.54 1603.2L299.71 1602.26L364.89 1600.31L430.06 1597.36L495.24 1593.41L560.41 1588.46L625.58 1582.51L690.76 1575.56L755.93 1567.61L821.11 1558.65L886.28 1548.7L951.46 1537.74L1016.63 1525.79L1081.81 1512.83L1146.98 1498.87L1212.16 1483.91L1277.33 1467.95L1342.51 1450.99L1407.68 1433.02L1472.85 1414.06L1538.03 1394.09L1603.2 1373.13L1668.38 1351.16L1733.55 1328.19L1798.73 1304.22L1863.9 1279.25L1929.08 1253.28L1994.25 1226.31L2059.43 1198.34L2124.6 1169.36" fill="none" stroke="#00ff00" stroke-width="7.9" stroke-linejoin="round" clip-path="url(#ax)"/>
<polygon points="216.74,1603.2 234.54,1579.8 252.34,1603.2 234.54,1626.6" fill="none" stroke="#00ff00" stroke-width="7.9" stroke-linejoin="miter" stroke-miterlimit="10"/>
<polygon points="281.91,1602.26 299.71,1578.86 317.51,1602.26 299.71,1625.66" fill="none" stroke="#00ff00" stroke-width="7.9" stroke-linejoin="miter" stroke-miterlimit="10"/>
<polygon points="347.09,1600.31 364.89,1576.91 382.69,1600.31 364.89,1623.71" fill="none" stroke="#00ff00" stroke-width="7.9" stroke-linejoin="miter" stroke-miterlimit="10"/>
<polygon points="412.26,1597.36 430.06,1573.96 447.86,1597.36 430.06,1620.76" fill="none" stroke="#00ff00" stroke-width="7.9" stroke-linejoin="miter" stroke-miterlimit="10"/>
<polygon points="477.44,1593.41 495.24,1570.01 513.04,1593.41 495.24,1616.81" fill="none" stroke="#00ff00" stroke-width="7.9" stroke-linejoin="miter" stroke-miterlimit="10"/>
<polygon points="542.61,1588.46 560.41,1565.06 578.21,1588.46 560.41,1611.86" fill="none" stroke="#00ff00" stroke-width="7.9" stroke-linejoin="miter" stroke-miterlimit="10"/>
<polygon points="607.78,1582.51 625.58,1559.11 643.38,1582.51 625.58,1605.91" fill="none" stroke="#00ff00" stroke-width="7.9" stroke-linejoin="miter" stroke-miterlimit="10"/>
<polygon points="672.96,1575.56 690.76,1552.16 708.56,1575.56 690.76,1598.96" fill="none" stroke="#00ff00" stroke-width="7.9" stroke-linejoin="miter" stroke-miterlimit="10"/>
<polygon points="738.13,1567.61 755.93,1544.21 773.73,1567.61 755.93,1591.01" fill="none" stroke="#00ff00" stroke-width="7.9" stroke-linejoin="miter" stroke-miterlimit="10"/>
<polygon points="803.31,1558.65 821.11,1535.25 838.91,1558.65 821.11,1582.05" fill="none" stroke="#00ff00" stroke-width="7.9" stroke-linejoin="miter" stroke-miterlimit="10"/>
<polygon points="868.48,1548.7 886.28,1525.3 904.08,1548.7 886.28,1572.1" fill="none" stroke="#00ff00" stroke-width="7.9" stroke-linejoin="miter" stroke-miterlimit="10"/>
<polygon points="933.66,1537.74 951.46,1514.34 969.26,1537.74 951.46,1561.14" fill="none" stroke="#00ff00" stroke-width="7.9" stroke-linejoin="miter" stroke-miterlimit="10"/>
<polygon points="998.83,1525.79 1016.63,1502.39 1034.43,1525.79 1016.63,1549.19" fill="none" stroke="#00ff00" stroke-width="7.9" stroke-linejoin="miter" stroke-miterlimit="10"/>
<polygon points="1064.01,1512.83 1081.81,1489.43 1099.61,1512.83 1081.81,1536.23" fill="none" stroke="#00ff00" stroke-width="7.9" stroke-linejoin="miter" stroke-miterlimit="10"/>
<polygon points="1129.18,1498.87 1146.98,1475.47 1164.78,1498.87 1146.98,1522.27" fill="none" stroke="#00ff00" stroke-width="7.9" stroke-linejoin="miter" stroke-miterlimit="10"/>
<polygon points="1194.36,1483.91 1212.16,1460.51 1229.96,1483.91 1212.16,1507.31" fill="none" stroke="#00ff00" stroke-width="7.9" stroke-linejoin="miter" stroke-miterlimit="10"/>
<polygon points="1259.53,1467.95 1277.33,1444.55 1295.13,1467.95 1277.33,1491.35" fill="none" stroke="#00ff00" stroke-width="7.9" stroke-linejoin="miter" stroke-miterlimit="10"/>
<polygon points="1324.71,1450.99 1342.51,1427.59 1360.31,1450.99 1342.51,1474.39" fill="none" stroke="#00ff00" stroke-width="7.9" stroke-linejoin="miter" stroke-miterlimit="10"/>
<polygon points="1389.88,1433.02 1407.68,1409.62 1425.48,1433.02 1407.68,1456.42" fill="none" stroke="#00ff00" stroke-width="7.9" stroke-linejoin="miter" stroke-miterlimit="10"/>
<polygon points="1455.05,1414.06 1472.85,1390.66 1490.65,1414.06 1472.85,1437.46" fill="none" stroke="#00ff00" stroke-width="7.9" stroke-linejoin="miter" stroke-miterlimit="10"/>
<polygon points="1520.23,1394.09 1538.03,1370.69 1555.83,1394.09 1538.03,1417.49" fill="none" stroke="#00ff00" stroke-width="7.9" stroke-linejoin="miter" stroke-miterlimit="10"/>
<polygon points="1585.4,1373.13 1603.2,1349.73 1621,1373.13 1603.2,1396.53" fill="none" stroke="#00ff00" stroke-width="7.9" stroke-linejoin="miter" stroke-miterlimit="10"/>
<polygon points="1650.58,1351.16 1668.38,1327.76 1686.18,1351.16 1668.38,1374.56" fill="none" stroke="#00ff00" stroke-width="7.9" stroke-linejoin="miter" stroke-miterlimit="10"/>
<polygon points="1715.75,1328.19 1733.55,1304.79 1751.35,1328.19 1733.55,1351.59" fill="none" stroke="#00ff00" stroke-width="7.9" stroke-linejoin="miter" stroke-miterlimit="10"/>
<polygon points="1780.93,1304.22 1798.73,1280.82 1816.53,1304.22 1798.73,1327.62" fill="none" stroke="#00ff00" stroke-width="7.9" stroke-linejoin="miter" stroke-miterlimit="10"/>
<polygon points="1846.1,1279.25 1863.9,1255.85 1881.7,1279.25 1863.9,1302.65" fill="none" stroke="#00ff00" stroke-width="7.9" stroke-linejoin="miter" stroke-miterlimit="10"/>
<polygon points="1911.28,1253.28 1929.08,1229.88 1946.88,1253.28 1929.08,1276.68" fill="none" stroke="#00ff00" stroke-width="7.9" stroke-linejoin="miter" stroke-miterlimit="10"/>
<polygon points="1976.45,1226.31 1994.25,1202.91 2012.05,1226.31 1994.25,1249.71" fill="none" stroke="#00ff00" stroke-width="7.9" stroke-linejoin="miter" stroke-miterlimit="10"/>
<polygon points="2041.63,1198.34 2059.43,1174.94 2077.23,1198.34 2059.43,1221.74" fill="none" stroke="#00ff00" stroke-width="7.9" stroke-linejoin="miter" stroke-miterlimit="10"/>
<polygon points="2106.8,1169.36 2124.6,1145.96 2142.4,1169.36 2124.6,1192.76" fill="none" stroke="#00ff00" stroke-width="7.9" stroke-linejoin="miter" stroke-miterlimit="10"/>
</g>
<g><path d="M234.54 1603.2L299.71 1602.11L364.89 1599.82L430.06 1596.33L495.24 1591.63L560.41 1585.74L625.58 1578.64L690.76 1570.34L755.93 1560.84L821.11 1550.14L886.28 1538.24L951.46 1525.14L1016.63 1510.83L1081.81 1495.33L1146.98 1478.62L1212.16 1460.71L1277.33 1441.6L1342.51 1421.29L1407.68 1399.78L1472.85 1377.07L1538.03 1353.16L1603.2 1328.04L1668.38 1301.72L1733.55 1274.21L1798.73 1245.49L1863.9 1215.57L1929.08 1184.45L1994.25 1152.12L2059.43 1118.6L2124.6 1083.88" fill="none" stroke="#00ff00" stroke-width="7.9" stroke-linejoin="round" clip-path="url(#ax)"/>
<rect x="220.64" y="1589.3" width="27.8" height="27.8" fill="none" stroke="#00ff00" stroke-width="7.9"/>
<rect x="285.81" y="1588.21" width="27.8" height="27.8" fill="none" stroke="#00ff00" stroke-width="7.9"/>
<rect x="350.99" y="1585.92" width="27.8" height="27.8" fill="none" stroke="#00ff00" stroke-width="7.9"/>
<rect x="416.16" y="1582.43" width="27.8" height="27.8" fill="none" stroke="#00ff00" stroke-width="7.9"/>
<rect x="481.34" y="1577.73" width="27.8" height="27.8" fill="none" stroke="#00ff00" stroke-width="7.9"/>
<rect x="546.51" y="1571.84" width="27.8" height="27.8" fill="none" stroke="#00ff00" stroke-width="7.9"/>
<rect x="611.68" y="1564.74" width="27.8" height="27.8" fill="none" stroke="#00ff00" stroke-width="7.9"/>
<rect x="676.86" y="1556.44" width="27.8" height="27.8" fill="none" stroke="#00ff00" stroke-width="7.9"/>
<rect x="742.03" y="1546.94" width="27.8" height="27.8" fill="none" stroke="#00ff00" stroke-width="7.9"/>
<rect x="807.21" y="1536.24" width="27.8" height="27.8" fill="none" stroke="#00ff00" stroke-width="7.9"/>
<rect x="872.38" y="1524.34" width="27.8" height="27.8" fill="none" stroke="#00ff00" stroke-width="7.9"/>
<rect x="937.56" y="1511.24" width="27.8" height="27.8" fill="none" stroke="#00ff00" stroke-width="7.9"/>
<rect x="1002.73" y="1496.93" width="27.8" height="27.8" fill="none" stroke="#00ff00" stroke-width="7.9"/>
<rect x="1067.91" y="1481.43" width="27.8" height="27.8" fill="none" stroke="#00ff00" stroke-width="7.9"/>
<rect x="1133.08" y="1464.72" width="27.8" height="27.8" fill="none" stroke="#00ff00" stroke-width="7.9"/>
<rect x="1198.26" y="1446.81" width="27.8" height="27.8" fill="none" stroke="#00ff00" stroke-width="7.9"/>
<rect x="1263.43" y="1427.7" width="27.8" height="27.8" fill="none" stroke="#00ff00" stroke-width="7.9"/>
<rect x="1328.61" y="1407.39" width="27.8" height="27.8" fill="none" stroke="#00ff00" stroke-width="7.9"/>
<rect x="1393.78" y="1385.88" width="27.8" height="27.8" fill="none" stroke="#00ff00" stroke-width="7.9"/>
<rect x="1458.95" y="1363.17" width="27.8" height="27.8" fill="none" stroke="#00ff00" stroke-width="7.9"/>
<rect x="1524.13" y="1339.26" width="27.8" height="27.8" fill="none" stroke="#00ff00" stroke-width="7.9"/>
<rect x="1589.3" y="1314.14" width="27.8" height="27.8" fill="none" stroke="#00ff00" stroke-width="7.9"/>
<rect x="1654.48" y="1287.82" width="27.8" height="27.8" fill="none" stroke="#00ff00" stroke-width="7.9"/>
<rect x="1719.65" y="1260.31" width="27.8" height="27.8" fill="none" stroke="#00ff00" stroke-width="7.9"/>
<rect x="1784.83" y="1231.59" width="27.8" height="27.8" fill="none" stroke="#00ff00" stroke-width="7.9"/>
<rect x="1850" y="1201.67" width="27.8" height="27.8" fill="none" stroke="#00ff00" stroke-width="7.9"/>
<rect x="1915.18" y="1170.55" width="27.8" height="27.8" fill="none" stroke="#00ff00" stroke-width="7.9"/>
<rect x="1980.35" y="1138.22" width="27.8" height="27.8" fill="none" stroke="#00ff00" stroke-width="7.9"/>
<rect x="2045.53" y="1104.7" width="27.8" height="27.8" fill="none" stroke="#00ff00" stroke-width="7.9"/>
<rect x="2110.7" y="1069.98" width="27.8" height="27.8" fill="none" stroke="#00ff00" stroke-width="7.9"/>
</g>
<g><path d="M234.54 1603.21L299.71 1601.97L364.89 1599.33L430.06 1595.29L495.24 1589.85L560.41 1583.01L625.58 1574.77L690.76 1565.12L755.93 1554.08L821.11 1541.63L886.28 1527.78L951.46 1512.53L1016.63 1495.88L1081.81 1477.83L1146.98 1458.37L1212.16 1437.52L1277.33 1415.26L1342.51 1391.6L1407.68 1366.54L1472.85 1340.08L1538.03 1312.22L1603.2 1282.95L1668.38 1252.29L1733.55 1220.22L1798.73 1186.75L1863.9 1151.88L1929.08 1115.61L1994.25 1077.94L2059.43 1038.86L2124.6 998.39" fill="none" stroke="#00ff00" stroke-width="7.9" stroke-linejoin="round" clip-path="url(#ax)"/>
<polygon points="251.44,1603.21 248.21,1613.14 239.76,1619.28 229.31,1619.28 220.86,1613.14 217.64,1603.21 220.86,1593.27 229.31,1587.13 239.76,1587.13 248.21,1593.27" fill="none" stroke="#00ff00" stroke-width="7.9" stroke-linejoin="miter"/>
<polygon points="316.61,1601.97 313.38,1611.9 304.93,1618.04 294.49,1618.04 286.04,1611.9 282.81,1601.97 286.04,1592.04 294.49,1585.9 304.93,1585.9 313.38,1592.04" fill="none" stroke="#00ff00" stroke-width="7.9" stroke-linejoin="miter"/>
<polygon points="381.79,1599.33 378.56,1609.27 370.11,1615.41 359.66,1615.41 351.21,1609.27 347.99,1599.33 351.21,1589.4 359.66,1583.26 370.11,1583.26 378.56,1589.4" fill="none" stroke="#00ff00" stroke-width="7.9" stroke-linejoin="miter"/>
<polygon points="446.96,1595.29 443.73,1605.23 435.28,1611.37 424.84,1611.37 416.39,1605.23 413.16,1595.29 416.39,1585.36 424.84,1579.22 435.28,1579.22 443.73,1585.36" fill="none" stroke="#00ff00" stroke-width="7.9" stroke-linejoin="miter"/>
<polygon points="512.14,1589.85 508.91,1599.79 500.46,1605.93 490.01,1605.93 481.56,1599.79 478.34,1589.85 481.56,1579.92 490.01,1573.78 500.46,1573.78 508.91,1579.92" fill="none" stroke="#00ff00" stroke-width="7.9" stroke-linejoin="miter"/>
<polygon points="577.31,1583.01 574.08,1592.95 565.63,1599.09 555.19,1599.09 546.74,1592.95 543.51,1583.01 546.74,1573.08 555.19,1566.94 565.63,1566.94 574.08,1573.08" fill="none" stroke="#00ff00" stroke-width="7.9" stroke-linejoin="miter"/>
<polygon points="642.48,1574.77 639.26,1584.7 630.81,1590.84 620.36,1590.84 611.91,1584.7 608.68,1574.77 611.91,1564.84 620.36,1558.7 630.81,1558.7 639.26,1564.84" fill="none" stroke="#00ff00" stroke-width="7.9" stroke-linejoin="miter"/>
<polygon points="707.66,1565.12 704.43,1575.06 695.98,1581.2 685.54,1581.2 677.09,1575.06 673.86,1565.12 677.09,1555.19 685.54,1549.05 695.98,1549.05 704.43,1555.19" fill="none" stroke="#00ff00" stroke-width="7.9" stroke-linejoin="miter"/>
<polygon points="772.83,1554.08 769.61,1564.01 761.16,1570.15 750.71,1570.15 742.26,1564.01 739.03,1554.08 742.26,1544.14 750.71,1538.01 761.16,1538.01 769.61,1544.14" fill="none" stroke="#00ff00" stroke-width="7.9" stroke-linejoin="miter"/>
<polygon points="838.01,1541.63 834.78,1551.56 826.33,1557.7 815.89,1557.7 807.44,1551.56 804.21,1541.63 807.44,1531.7 815.89,1525.56 826.33,1525.56 834.78,1531.7" fill="none" stroke="#00ff00" stroke-width="7.9" stroke-linejoin="miter"/>
<polygon points="903.18,1527.78 899.96,1537.72 891.51,1543.85 881.06,1543.85 872.61,1537.72 869.38,1527.78 872.61,1517.85 881.06,1511.71 891.51,1511.71 899.96,1517.85" fill="none" stroke="#00ff00" stroke-width="7.9" stroke-linejoin="miter"/>
<polygon points="968.36,1512.53 965.13,1522.47 956.68,1528.6 946.24,1528.6 937.79,1522.47 934.56,1512.53 937.79,1502.6 946.24,1496.46 956.68,1496.46 965.13,1502.6" fill="none" stroke="#00ff00" stroke-width="7.9" stroke-linejoin="miter"/>
<polygon points="1033.53,1495.88 1030.3,1505.81 1021.85,1511.95 1011.41,1511.95 1002.96,1505.81 999.73,1495.88 1002.96,1485.95 1011.41,1479.81 1021.85,1479.81 1030.3,1485.95" fill="none" stroke="#00ff00" stroke-width="7.9" stroke-linejoin="miter"/>
<polygon points="1098.71,1477.83 1095.48,1487.76 1087.03,1493.9 1076.58,1493.9 1068.13,1487.76 1064.91,1477.83 1068.13,1467.89 1076.58,1461.75 1087.03,1461.75 1095.48,1467.89" fill="none" stroke="#00ff00" stroke-width="7.9" stroke-linejoin="miter"/>
<polygon points="1163.88,1458.37 1160.65,1468.31 1152.2,1474.45 1141.76,1474.45 1133.31,1468.31 1130.08,1458.37 1133.31,1448.44 1141.76,1442.3 1152.2,1442.3 1160.65,1448.44" fill="none" stroke="#00ff00" stroke-width="7.9" stroke-linejoin="miter"/>
<polygon points="1229.06,1437.52 1225.83,1447.45 1217.38,1453.59 1206.93,1453.59 1198.48,1447.45 1195.26,1437.52 1198.48,1427.58 1206.93,1421.44 1217.38,1421.44 1225.83,1427.58" fill="none" stroke="#00ff00" stroke-width="7.9" stroke-linejoin="miter"/>
<polygon points="1294.23,1415.26 1291,1425.19 1282.55,1431.33 1272.11,1431.33 1263.66,1425.19 1260.43,1415.26 1263.66,1405.33 1272.11,1399.19 1282.55,1399.19 1291,1405.33" fill="none" stroke="#00ff00" stroke-width="7.9" stroke-linejoin="miter"/>
<polygon points="1359.41,1391.6 1356.18,1401.53 1347.73,1407.67 1337.28,1407.67 1328.83,1401.53 1325.61,1391.6 1328.83,1381.67 1337.28,1375.53 1347.73,1375.53 1356.18,1381.67" fill="none" stroke="#00ff00" stroke-width="7.9" stroke-linejoin="miter"/>
<polygon points="1424.58,1366.54 1421.35,1376.47 1412.9,1382.61 1402.46,1382.61 1394.01,1376.47 1390.78,1366.54 1394.01,1356.61 1402.46,1350.47 1412.9,1350.47 1421.35,1356.61" fill="none" stroke="#00ff00" stroke-width="7.9" stroke-linejoin="miter"/>
<polygon points="1489.75,1340.08 1486.53,1350.01 1478.08,1356.15 1467.63,1356.15 1459.18,1350.01 1455.95,1340.08 1459.18,1330.15 1467.63,1324.01 1478.08,1324.01 1486.53,1330.15" fill="none" stroke="#00ff00" stroke-width="7.9" stroke-linejoin="miter"/>
<polygon points="1554.93,1312.22 1551.7,1322.15 1543.25,1328.29 1532.81,1328.29 1524.36,1322.15 1521.13,1312.22 1524.36,1302.28 1532.81,1296.14 1543.25,1296.14 1551.7,1302.28" fill="none" stroke="#00ff00" stroke-width="7.9" stroke-linejoin="miter"/>
<polygon points="1620.1,1282.95 1616.88,1292.89 1608.43,1299.03 1597.98,1299.03 1589.53,1292.89 1586.3,1282.95 1589.53,1273.02 1597.98,1266.88 1608.43,1266.88 1616.88,1273.02" fill="none" stroke="#00ff00" stroke-width="7.9" stroke-linejoin="miter"/>
<polygon points="1685.28,1252.29 1682.05,1262.22 1673.6,1268.36 1663.16,1268.36 1654.71,1262.22 1651.48,1252.29 1654.71,1242.35 1663.16,1236.21 1673.6,1236.21 1682.05,1242.35" fill="none" stroke="#00ff00" stroke-width="7.9" stroke-linejoin="miter"/>
<polygon points="1750.45,1220.22 1747.22,1230.15 1738.77,1236.29 1728.33,1236.29 1719.88,1230.15 1716.65,1220.22 1719.88,1210.29 1728.33,1204.15 1738.77,1204.15 1747.22,1210.29" fill="none" stroke="#00ff00" stroke-width="7.9" stroke-linejoin="miter"/>
<polygon points="1815.63,1186.75 1812.4,1196.68 1803.95,1202.82 1793.5,1202.82 1785.05,1196.68 1781.83,1186.75 1785.05,1176.82 1793.5,1170.68 1803.95,1170.68 1812.4,1176.82" fill="none" stroke="#00ff00" stroke-width="7.9" stroke-linejoin="miter"/>
<polygon points="1880.8,1151.88 1877.57,1161.82 1869.12,1167.95 1858.68,1167.95 1850.23,1161.82 1847,1151.88 1850.23,1141.95 1858.68,1135.81 1869.12,1135.81 1877.57,1141.95" fill="none" stroke="#00ff00" stroke-width="7.9" stroke-linejoin="miter"/>
<polygon points="1945.98,1115.61 1942.75,1125.54 1934.3,1131.68 1923.85,1131.68 1915.4,1125.54 1912.18,1115.61 1915.4,1105.68 1923.85,1099.54 1934.3,1099.54 1942.75,1105.68" fill="none" stroke="#00ff00" stroke-width="7.9" stroke-linejoin="miter"/>
<polygon points="2011.15,1077.94 2007.92,1087.87 1999.47,1094.01 1989.03,1094.01 1980.58,1087.87 1977.35,1077.94 1980.58,1068 1989.03,1061.86 1999.47,1061.86 2007.92,1068" fill="none" stroke="#00ff00" stroke-width="7.9" stroke-linejoin="miter"/>
<polygon points="2076.33,1038.86 2073.1,1048.8 2064.65,1054.94 2054.2,1054.94 2045.75,1048.8 2042.53,1038.86 2045.75,1028.93 2054.2,1022.79 2064.65,1022.79 2073.1,1028.93" fill="none" stroke="#00ff00" stroke-width="7.9" stroke-linejoin="miter"/>
<polygon points="2141.5,998.39 2138.27,1008.32 2129.82,1014.46 2119.38,1014.46 2110.93,1008.32 2107.7,998.39 2110.93,988.45 2119.38,982.32 2129.82,982.32 2138.27,988.45" fill="none" stroke="#00ff00" stroke-width="7.9" stroke-linejoin="miter"/>
</g>
<g><path d="M234.54 1603.2L299.71 1602.4L364.89 1600.8L430.06 1598.4L495.24 1595.19L560.41 1591.19L625.58 1586.38L690.76 1580.78L755.93 1574.37L821.11 1567.16L886.28 1559.16L951.46 1550.35L1016.63 1540.74L1081.81 1530.33L1146.98 1519.12L1212.16 1507.1L1277.33 1494.29L1342.51 1480.68L1407.68 1466.26L1472.85 1451.05L1538.03 1435.03L1603.2 1418.22L1668.38 1400.6L1733.55 1382.18L1798.73 1362.96L1863.9 1342.94L1929.08 1322.12L1994.25 1300.5L2059.43 1278.08L2124.6 1254.85" fill="none" stroke="#ff0000" stroke-width="7.9" stroke-linejoin="round" clip-path="url(#ax)"/>
<path d="M214.64 1603.2H254.44M234.54 1583.3V1623.1M219.12 1587.78L249.95 1618.61M219.12 1618.61L249.95 1587.78" fill="none" stroke="#ff0000" stroke-width="7.9"/>
<path d="M279.81 1602.4H319.61M299.71 1582.5V1622.3M284.3 1586.98L315.13 1617.81M284.3 1617.81L315.13 1586.98" fill="none" stroke="#ff0000" stroke-width="7.9"/>
<path d="M344.99 1600.8H384.79M364.89 1580.9V1620.7M349.47 1585.38L380.3 1616.21M349.47 1616.21L380.3 1585.38" fill="none" stroke="#ff0000" stroke-width="7.9"/>
<path d="M410.16 1598.4H449.96M430.06 1578.5V1618.3M414.65 1582.98L445.48 1613.81M414.65 1613.81L445.48 1582.98" fill="none" stroke="#ff0000" stroke-width="7.9"/>
<path d="M475.34 1595.19H515.14M495.24 1575.29V1615.09M479.82 1579.78L510.65 1610.61M479.82 1610.61L510.65 1579.78" fill="none" stroke="#ff0000" stroke-width="7.9"/>
<path d="M540.51 1591.19H580.31M560.41 1571.29V1611.09M545 1575.77L575.83 1606.6M545 1606.6L575.83 1575.77" fill="none" stroke="#ff0000" stroke-width="7.9"/>
<path d="M605.68 1586.38H645.48M625.58 1566.48V1606.28M610.17 1570.97L641 1601.8M610.17 1601.8L641 1570.97" fill="none" stroke="#ff0000" stroke-width="7.9"/>
<path d="M670.86 1580.78H710.66M690.76 1560.88V1600.68M675.34 1565.36L706.17 1596.19M675.34 1596.19L706.17 1565.36" fill="none" stroke="#ff0000" stroke-width="7.9"/>
<path d="M736.03 1574.37H775.83M755.93 1554.47V1594.27M740.52 1558.96L771.35 1589.79M740.52 1589.79L771.35 1558.96" fill="none" stroke="#ff0000" stroke-width="7.9"/>
<path d="M801.21 1567.16H841.01M821.11 1547.26V1587.06M805.69 1551.75L836.52 1582.58M805.69 1582.58L836.52 1551.75" fill="none" stroke="#ff0000" stroke-width="7.9"/>
<path d="M866.38 1559.16H906.18M886.28 1539.26V1579.06M870.87 1543.74L901.7 1574.57M870.87 1574.57L901.7 1543.74" fill="none" stroke="#ff0000" stroke-width="7.9"/>
<path d="M931.56 1550.35H971.36M951.46 1530.45V1570.25M936.04 1534.93L966.87 1565.76M936.04 1565.76L966.87 1534.93" fill="none" stroke="#ff0000" stroke-width="7.9"/>
<path d="M996.73 1540.74H1036.53M1016.63 1520.84V1560.64M1001.22 1525.32L1032.05 1556.15M1001.22 1556.15L1032.05 1525.32" fill="none" stroke="#ff0000" stroke-width="7.9"/>
<path d="M1061.91 1530.33H1101.71M1081.81 1510.43V1550.23M1066.39 1514.91L1097.22 1545.74M1066.39 1545.74L1097.22 1514.91" fill="none" stroke="#ff0000" stroke-width="7.9"/>
<path d="M1127.08 1519.12H1166.88M1146.98 1499.22V1539.02M1131.57 1503.7L1162.4 1534.53M1131.57 1534.53L1162.4 1503.7" fill="none" stroke="#ff0000" stroke-width="7.9"/>
<path d="M1192.26 1507.1H1232.06M1212.16 1487.2V1527M1196.74 1491.69L1227.57 1522.52M1196.74 1522.52L1227.57 1491.69" fill="none" stroke="#ff0000" stroke-width="7.9"/>
<path d="M1257.43 1494.29H1297.23M1277.33 1474.39V1514.19M1261.92 1478.88L1292.75 1509.71M1261.92 1509.71L1292.75 1478.88" fill="none" stroke="#ff0000" stroke-width="7.9"/>
<path d="M1322.61 1480.68H1362.41M1342.51 1460.78V1500.58M1327.09 1465.26L1357.92 1496.09M1327.09 1496.09L1357.92 1465.26" fill="none" stroke="#ff0000" stroke-width="7.9"/>
<path d="M1387.78 1466.26H1427.58M1407.68 1446.36V1486.16M1392.26 1450.85L1423.09 1481.68M1392.26 1481.68L1423.09 1450.85" fill="none" stroke="#ff0000" stroke-width="7.9"/>
<path d="M1452.95 1451.05H1492.75M1472.85 1431.15V1470.95M1457.44 1435.63L1488.27 1466.46M1457.44 1466.46L1488.27 1435.63" fill="none" stroke="#ff0000" stroke-width="7.9"/>
<path d="M1518.13 1435.03H1557.93M1538.03 1415.13V1454.93M1522.61 1419.62L1553.44 1450.45M1522.61 1450.45L1553.44 1419.62" fill="none" stroke="#ff0000" stroke-width="7.9"/>
<path d="M1583.3 1418.22H1623.1M1603.2 1398.32V1438.12M1587.79 1402.8L1618.62 1433.63M1587.79 1433.63L1618.62 1402.8" fill="none" stroke="#ff0000" stroke-width="7.9"/>
<path d="M1648.48 1400.6H1688.28M1668.38 1380.7V1420.5M1652.96 1385.18L1683.79 1416.01M1652.96 1416.01L1683.79 1385.18" fill="none" stroke="#ff0000" stroke-width="7.9"/>
<path d="M1713.65 1382.18H1753.45M1733.55 1362.28V1402.08M1718.14 1366.76L1748.97 1397.59M1718.14 1397.59L1748.97 1366.76" fill="none" stroke="#ff0000" stroke-width="7.9"/>
<path d="M1778.83 1362.96H1818.63M1798.73 1343.06V1382.86M1783.31 1347.54L1814.14 1378.37M1783.31 1378.37L1814.14 1347.54" fill="none" stroke="#ff0000" stroke-width="7.9"/>
<path d="M1844 1342.94H1883.8M1863.9 1323.04V1362.84M1848.49 1327.52L1879.32 1358.35M1848.49 1358.35L1879.32 1327.52" fill="none" stroke="#ff0000" stroke-width="7.9"/>
<path d="M1909.18 1322.12H1948.98M1929.08 1302.22V1342.02M1913.66 1306.7L1944.49 1337.53M1913.66 1337.53L1944.49 1306.7" fill="none" stroke="#ff0000" stroke-width="7.9"/>
<path d="M1974.35 1300.5H2014.15M1994.25 1280.6V1320.4M1978.84 1285.08L2009.67 1315.91M1978.84 1315.91L2009.67 1285.08" fill="none" stroke="#ff0000" stroke-width="7.9"/>
<path d="M2039.53 1278.08H2079.33M2059.43 1258.18V1297.98M2044.01 1262.66L2074.84 1293.49M2044.01 1293.49L2074.84 1262.66" fill="none" stroke="#ff0000" stroke-width="7.9"/>
<path d="M2104.7 1254.85H2144.5M2124.6 1234.95V1274.75M2109.19 1239.44L2140.01 1270.27M2109.19 1270.27L2140.01 1239.44" fill="none" stroke="#ff0000" stroke-width="7.9"/>
</g>
<g><path d="M234.54 1603.2L299.71 1602.26L364.89 1600.31L430.06 1597.36L495.24 1593.41L560.41 1588.46L625.58 1582.51L690.76 1575.56L755.93 1567.61L821.11 1558.65L886.28 1548.7L951.46 1537.74L1016.63 1525.79L1081.81 1512.83L1146.98 1498.87L1212.16 1483.91L1277.33 1467.95L1342.51 1450.99L1407.68 1433.02L1472.85 1414.06L1538.03 1394.09L1603.2 1373.13L1668.38 1351.16L1733.55 1328.19L1798.73 1304.22L1863.9 1279.25L1929.08 1253.28L1994.25 1226.31L2059.43 1198.34L2124.6 1169.36" fill="none" stroke="#ff0000" stroke-width="7.9" stroke-linejoin="round" clip-path="url(#ax)"/>
<rect x="220.64" y="1589.3" width="27.8" height="27.8" fill="none" stroke="#ff0000" stroke-width="7.9"/>
<rect x="285.81" y="1588.36" width="27.8" height="27.8" fill="none" stroke="#ff0000" stroke-width="7.9"/>
<rect x="350.99" y="1586.41" width="27.8" height="27.8" fill="none" stroke="#ff0000" stroke-width="7.9"/>
<rect x="416.16" y="1583.46" width="27.8" height="27.8" fill="none" stroke="#ff0000" stroke-width="7.9"/>
<rect x="481.34" y="1579.51" width="27.8" height="27.8" fill="none" stroke="#ff0000" stroke-width="7.9"/>
<rect x="546.51" y="1574.56" width="27.8" height="27.8" fill="none" stroke="#ff0000" stroke-width="7.9"/>
<rect x="611.68" y="1568.61" width="27.8" height="27.8" fill="none" stroke="#ff0000" stroke-width="7.9"/>
<rect x="676.86" y="1561.66" width="27.8" height="27.8" fill="none" stroke="#ff0000" stroke-width="7.9"/>
<rect x="742.03" y="1553.71" width="27.8" height="27.8" fill="none" stroke="#ff0000" stroke-width="7.9"/>
<rect x="807.21" y="1544.75" width="27.8" height="27.8" fill="none" stroke="#ff0000" stroke-width="7.9"/>
<rect x="872.38" y="1534.8" width="27.8" height="27.8" fill="none" stroke="#ff0000" stroke-width="7.9"/>
<rect x="937.56" y="1523.84" width="27.8" height="27.8" fill="none" stroke="#ff0000" stroke-width="7.9"/>
<rect x="1002.73" y="1511.89" width="27.8" height="27.8" fill="none" stroke="#ff0000" stroke-width="7.9"/>
<rect x="1067.91" y="1498.93" width="27.8" height="27.8" fill="none" stroke="#ff0000" stroke-width="7.9"/>
<rect x="1133.08" y="1484.97" width="27.8" height="27.8" fill="none" stroke="#ff0000" stroke-width="7.9"/>
<rect x="1198.26" y="1470.01" width="27.8" height="27.8" fill="none" stroke="#ff0000" stroke-width="7.9"/>
<rect x="1263.43" y="1454.05" width="27.8" height="27.8" fill="none" stroke="#ff0000" stroke-width="7.9"/>
<rect x="1328.61" y="1437.09" width="27.8" height="27.8" fill="none" stroke="#ff0000" stroke-width="7.9"/>
<rect x="1393.78" y="1419.12" width="27.8" height="27.8" fill="none" stroke="#ff0000" stroke-width="7.9"/>
<rect x="1458.95" y="1400.16" width="27.8" height="27.8" fill="none" stroke="#ff0000" stroke-width="7.9"/>
<rect x="1524.13" y="1380.19" width="27.8" height="27.8" fill="none" stroke="#ff0000" stroke-width="7.9"/>
<rect x="1589.3" y="1359.23" width="27.8" height="27.8" fill="none" stroke="#ff0000" stroke-width="7.9"/>
<rect x="1654.48" y="1337.26" width="27.8" height="27.8" fill="none" stroke="#ff0000" stroke-width="7.9"/>
<rect x="1719.65" y="1314.29" width="27.8" height="27.8" fill="none" stroke="#ff0000" stroke-width="7.9"/>
<rect x="1784.83" y="1290.32" width="27.8" height="27.8" fill="none" stroke="#ff0000" stroke-width="7.9"/>
<rect x="1850" y="1265.35" width="27.8" height="27.8" fill="none" stroke="#ff0000" stroke-width="7.9"/>
<rect x="1915.18" y="1239.38" width="27.8" height="27.8" fill="none" stroke="#ff0000" stroke-width="7.9"/>
<rect x="1980.35" y="1212.41" width="27.8" height="27.8" fill="none" stroke="#ff0000" stroke-width="7.9"/>
<rect x="2045.53" y="1184.44" width="27.8" height="27.8" fill="none" stroke="#ff0000" stroke-width="7.9"/>
<rect x="2110.7" y="1155.46" width="27.8" height="27.8" fill="none" stroke="#ff0000" stroke-width="7.9"/>
</g>
<g><path d="M234.54 1603.2L299.71 1602.11L364.89 1599.82L430.06 1596.33L495.24 1591.63L560.41 1585.74L625.58 1578.64L690.76 1570.34L755.93 1560.84L821.11 1550.14L886.28 1538.24L951.46 1525.14L1016.63 1510.83L1081.81 1495.33L1146.98 1478.62L1212.16 1460.71L1277.33 1441.6L1342.51 1421.29L1407.68 1399.78L1472.85 1377.07L1538.03 1353.16L1603.2 1328.04L1668.38 1301.72L1733.55 1274.21L1798.73 1245.49L1863.9 1215.57L1929.08 1184.45L1994.25 1152.12L2059.43 1118.6L2124.6 1083.88" fill="none" stroke="#ff0000" stroke-width="7.9" stroke-linejoin="round" clip-path="url(#ax)"/>
<polygon points="251.44,1603.2 248.21,1613.14 239.76,1619.28 229.31,1619.28 220.86,1613.14 217.64,1603.2 220.86,1593.27 229.31,1587.13 239.76,1587.13 248.21,1593.27" fill="none" stroke="#ff0000" stroke-width="7.9" stroke-linejoin="miter"/>
<polygon points="316.61,1602.11 313.38,1612.05 304.93,1618.19 294.49,1618.19 286.04,1612.05 282.81,1602.11 286.04,1592.18 294.49,1586.04 304.93,1586.04 313.38,1592.18" fill="none" stroke="#ff0000" stroke-width="7.9" stroke-linejoin="miter"/>
<polygon points="381.79,1599.82 378.56,1609.76 370.11,1615.89 359.66,1615.89 351.21,1609.76 347.99,1599.82 351.21,1589.89 359.66,1583.75 370.11,1583.75 378.56,1589.89" fill="none" stroke="#ff0000" stroke-width="7.9" stroke-linejoin="miter"/>
<polygon points="446.96,1596.33 443.73,1606.26 435.28,1612.4 424.84,1612.4 416.39,1606.26 413.16,1596.33 416.39,1586.39 424.84,1580.26 435.28,1580.26 443.73,1586.39" fill="none" stroke="#ff0000" stroke-width="7.9" stroke-linejoin="miter"/>
<polygon points="512.14,1591.63 508.91,1601.57 500.46,1607.71 490.01,1607.71 481.56,1601.57 478.34,1591.63 481.56,1581.7 490.01,1575.56 500.46,1575.56 508.91,1581.7" fill="none" stroke="#ff0000" stroke-width="7.9" stroke-linejoin="miter"/>
<polygon points="577.31,1585.74 574.08,1595.67 565.63,1601.81 555.19,1601.81 546.74,1595.67 543.51,1585.74 546.74,1575.8 555.19,1569.66 565.63,1569.66 574.08,1575.8" fill="none" stroke="#ff0000" stroke-width="7.9" stroke-linejoin="miter"/>
<polygon points="642.48,1578.64 639.26,1588.57 630.81,1594.71 620.36,1594.71 611.91,1588.57 608.68,1578.64 611.91,1568.71 620.36,1562.57 630.81,1562.57 639.26,1568.71" fill="none" stroke="#ff0000" stroke-width="7.9" stroke-linejoin="miter"/>
<polygon points="707.66,1570.34 704.43,1580.28 695.98,1586.41 685.54,1586.41 677.09,1580.28 673.86,1570.34 677.09,1560.41 685.54,1554.27 695.98,1554.27 704.43,1560.41" fill="none" stroke="#ff0000" stroke-width="7.9" stroke-linejoin="miter"/>
<polygon points="772.83,1560.84 769.61,1570.78 761.16,1576.92 750.71,1576.92 742.26,1570.78 739.03,1560.84 742.26,1550.91 750.71,1544.77 761.16,1544.77 769.61,1550.91" fill="none" stroke="#ff0000" stroke-width="7.9" stroke-linejoin="miter"/>
<polygon points="838.01,1550.14 834.78,1560.08 826.33,1566.21 815.89,1566.21 807.44,1560.08 804.21,1550.14 807.44,1540.21 815.89,1534.07 826.33,1534.07 834.78,1540.21" fill="none" stroke="#ff0000" stroke-width="7.9" stroke-linejoin="miter"/>
<polygon points="903.18,1538.24 899.96,1548.17 891.51,1554.31 881.06,1554.31 872.61,1548.17 869.38,1538.24 872.61,1528.31 881.06,1522.17 891.51,1522.17 899.96,1528.31" fill="none" stroke="#ff0000" stroke-width="7.9" stroke-linejoin="miter"/>
<polygon points="968.36,1525.14 965.13,1535.07 956.68,1541.21 946.24,1541.21 937.79,1535.07 934.56,1525.14 937.79,1515.2 946.24,1509.06 956.68,1509.06 965.13,1515.2" fill="none" stroke="#ff0000" stroke-width="7.9" stroke-linejoin="miter"/>
<polygon points="1033.53,1510.83 1030.3,1520.77 1021.85,1526.91 1011.41,1526.91 1002.96,1520.77 999.73,1510.83 1002.96,1500.9 1011.41,1494.76 1021.85,1494.76 1030.3,1500.9" fill="none" stroke="#ff0000" stroke-width="7.9" stroke-linejoin="miter"/>
<polygon points="1098.71,1495.33 1095.48,1505.26 1087.03,1511.4 1076.58,1511.4 1068.13,1505.26 1064.91,1495.33 1068.13,1485.39 1076.58,1479.25 1087.03,1479.25 1095.48,1485.39" fill="none" stroke="#ff0000" stroke-width="7.9" stroke-linejoin="miter"/>
<polygon points="1163.88,1478.62 1160.65,1488.55 1152.2,1494.69 1141.76,1494.69 1133.31,1488.55 1130.08,1478.62 1133.31,1468.69 1141.76,1462.55 1152.2,1462.55 1160.65,1468.69" fill="none" stroke="#ff0000" stroke-width="7.9" stroke-linejoin="miter"/>
<polygon points="1229.06,1460.71 1225.83,1470.65 1217.38,1476.79 1206.93,1476.79 1198.48,1470.65 1195.26,1460.71 1198.48,1450.78 1206.93,1444.64 1217.38,1444.64 1225.83,1450.78" fill="none" stroke="#ff0000" stroke-width="7.9" stroke-linejoin="miter"/>
<polygon points="1294.23,1441.6 1291,1451.54 1282.55,1457.68 1272.11,1457.68 1263.66,1451.54 1260.43,1441.6 1263.66,1431.67 1272.11,1425.53 1282.55,1425.53 1291,1431.67" fill="none" stroke="#ff0000" stroke-width="7.9" stroke-linejoin="miter"/>
<polygon points="1359.41,1421.29 1356.18,1431.23 1347.73,1437.37 1337.28,1437.37 1328.83,1431.23 1325.61,1421.29 1328.83,1411.36 1337.28,1405.22 1347.73,1405.22 1356.18,1411.36" fill="none" stroke="#ff0000" stroke-width="7.9" stroke-linejoin="miter"/>
<polygon points="1424.58,1399.78 1421.35,1409.72 1412.9,1415.85 1402.46,1415.85 1394.01,1409.72 1390.78,1399.78 1394.01,1389.85 1402.46,1383.71 1412.9,1383.71 1421.35,1389.85" fill="none" stroke="#ff0000" stroke-width="7.9" stroke-linejoin="miter"/>
<polygon points="1489.75,1377.07 1486.53,1387 1478.08,1393.14 1467.63,1393.14 1459.18,1387 1455.95,1377.07 1459.18,1367.14 1467.63,1361 1478.08,1361 1486.53,1367.14" fill="none" stroke="#ff0000" stroke-width="7.9" stroke-linejoin="miter"/>
<polygon points="1554.93,1353.16 1551.7,1363.09 1543.25,1369.23 1532.81,1369.23 1524.36,1363.09 1521.13,1353.16 1524.36,1343.22 1532.81,1337.08 1543.25,1337.08 1551.7,1343.22" fill="none" stroke="#ff0000" stroke-width="7.9" stroke-linejoin="miter"/>
<polygon points="1620.1,1328.04 1616.88,1337.97 1608.43,1344.11 1597.98,1344.11 1589.53,1337.97 1586.3,1328.04 1589.53,1318.11 1597.98,1311.97 1608.43,1311.97 1616.88,1318.11" fill="none" stroke="#ff0000" stroke-width="7.9" stroke-linejoin="miter"/>
<polygon points="1685.28,1301.72 1682.05,1311.66 1673.6,1317.8 1663.16,1317.8 1654.71,1311.66 1651.48,1301.72 1654.71,1291.79 1663.16,1285.65 1673.6,1285.65 1682.05,1291.79" fill="none" stroke="#ff0000" stroke-width="7.9" stroke-linejoin="miter"/>
<polygon points="1750.45,1274.21 1747.22,1284.14 1738.77,1290.28 1728.33,1290.28 1719.88,1284.14 1716.65,1274.21 1719.88,1264.27 1728.33,1258.13 1738.77,1258.13 1747.22,1264.27" fill="none" stroke="#ff0000" stroke-width="7.9" stroke-linejoin="miter"/>
<polygon points="1815.63,1245.49 1812.4,1255.42 1803.95,1261.56 1793.5,1261.56 1785.05,1255.42 1781.83,1245.49 1785.05,1235.55 1793.5,1229.41 1803.95,1229.41 1812.4,1235.55" fill="none" stroke="#ff0000" stroke-width="7.9" stroke-linejoin="miter"/>
<polygon points="1880.8,1215.57 1877.57,1225.5 1869.12,1231.64 1858.68,1231.64 1850.23,1225.5 1847,1215.57 1850.23,1205.63 1858.68,1199.49 1869.12,1199.49 1877.57,1205.63" fill="none" stroke="#ff0000" stroke-width="7.9" stroke-linejoin="miter"/>
<polygon points="1945.98,1184.45 1942.75,1194.38 1934.3,1200.52 1923.85,1200.52 1915.4,1194.38 1912.18,1184.45 1915.4,1174.51 1923.85,1168.37 1934.3,1168.37 1942.75,1174.51" fill="none" stroke="#ff0000" stroke-width="7.9" stroke-linejoin="miter"/>
<polygon points="2011.15,1152.12 2007.92,1162.06 1999.47,1168.2 1989.03,1168.2 1980.58,1162.06 1977.35,1152.12 1980.58,1142.19 1989.03,1136.05 1999.47,1136.05 2007.92,1142.19" fill="none" stroke="#ff0000" stroke-width="7.9" stroke-linejoin="miter"/>
<polygon points="2076.33,1118.6 2073.1,1128.53 2064.65,1134.67 2054.2,1134.67 2045.75,1128.53 2042.53,1118.6 2045.75,1108.67 2054.2,1102.53 2064.65,1102.53 2073.1,1108.67" fill="none" stroke="#ff0000" stroke-width="7.9" stroke-linejoin="miter"/>
<polygon points="2141.5,1083.88 2138.27,1093.81 2129.82,1099.95 2119.38,1099.95 2110.93,1093.81 2107.7,1083.88 2110.93,1073.94 2119.38,1067.8 2129.82,1067.8 2138.27,1073.94" fill="none" stroke="#ff0000" stroke-width="7.9" stroke-linejoin="miter"/>
</g>
<g><path d="M234.54 1603.21L299.71 1601.97L364.89 1599.33L430.06 1595.29L495.24 1589.85L560.41 1583.01L625.58 1574.77L690.76 1565.12L755.93 1554.08L821.11 1541.63L886.28 1527.78L951.46 1512.53L1016.63 1495.88L1081.81 1477.83L1146.98 1458.37L1212.16 1437.52L1277.33 1415.26L1342.51 1391.6L1407.68 1366.54L1472.85 1340.08L1538.03 1312.22L1603.2 1282.95L1668.38 1252.29L1733.55 1220.22L1798.73 1186.75L1863.9 1151.88L1929.08 1115.61L1994.25 1077.94L2059.43 1038.86L2124.6 998.39" fill="none" stroke="#ff0000" stroke-width="7.9" stroke-linejoin="round" clip-path="url(#ax)"/>
<polygon points="223.44,1583.21 258.14,1603.21 223.44,1623.21" fill="none" stroke="#ff0000" stroke-width="7.9" stroke-linejoin="miter" stroke-miterlimit="10"/>
<polygon points="288.61,1581.97 323.31,1601.97 288.61,1621.97" fill="none" stroke="#ff0000" stroke-width="7.9" stroke-linejoin="miter" stroke-miterlimit="10"/>
<polygon points="353.79,1579.33 388.49,1599.33 353.79,1619.33" fill="none" stroke="#ff0000" stroke-width="7.9" stroke-linejoin="miter" stroke-miterlimit="10"/>
<polygon points="418.96,1575.29 453.66,1595.29 418.96,1615.29" fill="none" stroke="#ff0000" stroke-width="7.9" stroke-linejoin="miter" stroke-miterlimit="10"/>
<polygon points="484.14,1569.85 518.84,1589.85 484.14,1609.85" fill="none" stroke="#ff0000" stroke-width="7.9" stroke-linejoin="miter" stroke-miterlimit="10"/>
<polygon points="549.31,1563.01 584.01,1583.01 549.31,1603.01" fill="none" stroke="#ff0000" stroke-width="7.9" stroke-linejoin="miter" stroke-miterlimit="10"/>
<polygon points="614.48,1554.77 649.18,1574.77 614.48,1594.77" fill="none" stroke="#ff0000" stroke-width="7.9" stroke-linejoin="miter" stroke-miterlimit="10"/>
<polygon points="679.66,1545.12 714.36,1565.12 679.66,1585.12" fill="none" stroke="#ff0000" stroke-width="7.9" stroke-linejoin="miter" stroke-miterlimit="10"/>
<polygon points="744.83,1534.08 779.53,1554.08 744.83,1574.08" fill="none" stroke="#ff0000" stroke-width="7.9" stroke-linejoin="miter" stroke-miterlimit="10"/>
<polygon points="810.01,1521.63 844.71,1541.63 810.01,1561.63" fill="none" stroke="#ff0000" stroke-width="7.9" stroke-linejoin="miter" stroke-miterlimit="10"/>
<polygon points="875.18,1507.78 909.88,1527.78 875.18,1547.78" fill="none" stroke="#ff0000" stroke-width="7.9" stroke-linejoin="miter" stroke-miterlimit="10"/>
<polygon points="940.36,1492.53 975.06,1512.53 940.36,1532.53" fill="none" stroke="#ff0000" stroke-width="7.9" stroke-linejoin="miter" stroke-miterlimit="10"/>
<polygon points="1005.53,1475.88 1040.23,1495.88 1005.53,1515.88" fill="none" stroke="#ff0000" stroke-width="7.9" stroke-linejoin="miter" stroke-miterlimit="10"/>
<polygon points="1070.71,1457.83 1105.41,1477.83 1070.71,1497.83" fill="none" stroke="#ff0000" stroke-width="7.9" stroke-linejoin="miter" stroke-miterlimit="10"/>
<polygon points="1135.88,1438.37 1170.58,1458.37 1135.88,1478.37" fill="none" stroke="#ff0000" stroke-width="7.9" stroke-linejoin="miter" stroke-miterlimit="10"/>
<polygon points="1201.06,1417.52 1235.76,1437.52 1201.06,1457.52" fill="none" stroke="#ff0000" stroke-width="7.9" stroke-linejoin="miter" stroke-miterlimit="10"/>
<polygon points="1266.23,1395.26 1300.93,1415.26 1266.23,1435.26" fill="none" stroke="#ff0000" stroke-width="7.9" stroke-linejoin="miter" stroke-miterlimit="10"/>
<polygon points="1331.41,1371.6 1366.11,1391.6 1331.41,1411.6" fill="none" stroke="#ff0000" stroke-width="7.9" stroke-linejoin="miter" stroke-miterlimit="10"/>
<polygon points="1396.58,1346.54 1431.28,1366.54 1396.58,1386.54" fill="none" stroke="#ff0000" stroke-width="7.9" stroke-linejoin="miter" stroke-miterlimit="10"/>
<polygon points="1461.75,1320.08 1496.45,1340.08 1461.75,1360.08" fill="none" stroke="#ff0000" stroke-width="7.9" stroke-linejoin="miter" stroke-miterlimit="10"/>
<polygon points="1526.93,1292.22 1561.63,1312.22 1526.93,1332.22" fill="none" stroke="#ff0000" stroke-width="7.9" stroke-linejoin="miter" stroke-miterlimit="10"/>
<polygon points="1592.1,1262.95 1626.8,1282.95 1592.1,1302.95" fill="none" stroke="#ff0000" stroke-width="7.9" stroke-linejoin="miter" stroke-miterlimit="10"/>
<polygon points="1657.28,1232.29 1691.98,1252.29 1657.28,1272.29" fill="none" stroke="#ff0000" stroke-width="7.9" stroke-linejoin="miter" stroke-miterlimit="10"/>
<polygon points="1722.45,1200.22 1757.15,1220.22 1722.45,1240.22" fill="none" stroke="#ff0000" stroke-width="7.9" stroke-linejoin="miter" stroke-miterlimit="10"/>
<polygon points="1787.63,1166.75 1822.33,1186.75 1787.63,1206.75" fill="none" stroke="#ff0000" stroke-width="7.9" stroke-linejoin="miter" stroke-miterlimit="10"/>
<polygon points="1852.8,1131.88 1887.5,1151.88 1852.8,1171.88" fill="none" stroke="#ff0000" stroke-width="7.9" stroke-linejoin="miter" stroke-miterlimit="10"/>
<polygon points="1917.98,1095.61 1952.68,1115.61 1917.98,1135.61" fill="none" stroke="#ff0000" stroke-width="7.9" stroke-linejoin="miter" stroke-miterlimit="10"/>
<polygon points="1983.15,1057.94 2017.85,1077.94 1983.15,1097.94" fill="none" stroke="#ff0000" stroke-width="7.9" stroke-linejoin="miter" stroke-miterlimit="10"/>
<polygon points="2048.33,1018.86 2083.03,1038.86 2048.33,1058.86" fill="none" stroke="#ff0000" stroke-width="7.9" stroke-linejoin="miter" stroke-miterlimit="10"/>
<polygon points="2113.5,978.39 2148.2,998.39 2113.5,1018.39" fill="none" stroke="#ff0000" stroke-width="7.9" stroke-linejoin="miter" stroke-miterlimit="10"/>
</g>
<rect x="321.4" y="234.6" width="540.5" height="1022.7" fill="#fff" stroke="#262626" stroke-width="7.3"/>
<path d="M339.1 280.9H472" stroke="#000000" stroke-width="7.9" fill="none"/>
<polygon points="424.7,280.9 421.47,290.83 413.02,296.97 402.58,296.97 394.13,290.83 390.9,280.9 394.13,270.97 402.58,264.83 413.02,264.83 421.47,270.97" fill="none" stroke="#000000" stroke-width="7.9" stroke-linejoin="miter"/>
<text transform="translate(483 306.4) scale(1 1.048)" font-size="59.6" fill="#000" stroke="#000" stroke-width="0.5">MMSE</text>
<path d="M339.1 358.4H472" stroke="#00ffff" stroke-width="7.9" fill="none"/>
<path d="M388 360.6H427.8M407.9 340.7V380.5M392.49 345.19L423.31 376.01M392.49 376.01L423.31 345.19" fill="none" stroke="#00ffff" stroke-width="7.9"/>
<text transform="translate(483 383.9) scale(1 1.048)" font-size="59.6" fill="#000" stroke="#000" stroke-width="0.5">GS,k=2</text>
<path d="M339.1 435.9H472" stroke="#00ffff" stroke-width="7.9" fill="none"/>
<rect x="393.9" y="422" width="27.8" height="27.8" fill="none" stroke="#00ffff" stroke-width="7.9"/>
<text transform="translate(483 461.4) scale(1 1.048)" font-size="59.6" fill="#000" stroke="#000" stroke-width="0.5">GS,k=3</text>
<path d="M339.1 513.4H472" stroke="#00ffff" stroke-width="7.9" fill="none"/>
<polygon points="424.7,513.4 421.47,523.33 413.02,529.47 402.58,529.47 394.13,523.33 390.9,513.4 394.13,503.47 402.58,497.33 413.02,497.33 421.47,503.47" fill="none" stroke="#00ffff" stroke-width="7.9" stroke-linejoin="miter"/>
<text transform="translate(483 538.9) scale(1 1.048)" font-size="59.6" fill="#000" stroke="#000" stroke-width="0.5">GS,k=4</text>
<path d="M339.1 590.9H472" stroke="#00ffff" stroke-width="7.9" fill="none"/>
<polygon points="397.2,570.9 431.9,590.9 397.2,610.9" fill="none" stroke="#00ffff" stroke-width="7.9" stroke-linejoin="miter" stroke-miterlimit="10"/>
<text transform="translate(483 616.4) scale(1 1.048)" font-size="59.6" fill="#000" stroke="#000" stroke-width="0.5">GS,k=5</text>
<path d="M339.1 668.4H472" stroke="#00ff00" stroke-width="7.9" fill="none"/>
<polygon points="387.8,682.5 407.8,647.8 427.8,682.5" fill="none" stroke="#00ff00" stroke-width="7.9" stroke-linejoin="miter" stroke-miterlimit="10"/>
<text transform="translate(483 693.9) scale(1 1.048)" font-size="59.6" fill="#000" stroke="#000" stroke-width="0.5">CP-GS,k=2</text>
<path d="M339.1 745.9H472" stroke="#00ff00" stroke-width="7.9" fill="none"/>
<polygon points="390,745.9 407.8,722.5 425.6,745.9 407.8,769.3" fill="none" stroke="#00ff00" stroke-width="7.9" stroke-linejoin="miter" stroke-miterlimit="10"/>
<text transform="translate(483 771.4) scale(1 1.048)" font-size="59.6" fill="#000" stroke="#000" stroke-width="0.5">CP-GS,k=3</text>
<path d="M339.1 823.4H472" stroke="#00ff00" stroke-width="7.9" fill="none"/>
<rect x="393.9" y="809.5" width="27.8" height="27.8" fill="none" stroke="#00ff00" stroke-width="7.9"/>
<text transform="translate(483 848.9) scale(1 1.048)" font-size="59.6" fill="#000" stroke="#000" stroke-width="0.5">CP-GS,k=4</text>
<path d="M339.1 900.9H472" stroke="#00ff00" stroke-width="7.9" fill="none"/>
<polygon points="424.7,900.9 421.47,910.83 413.02,916.97 402.58,916.97 394.13,910.83 390.9,900.9 394.13,890.97 402.58,884.83 413.02,884.83 421.47,890.97" fill="none" stroke="#00ff00" stroke-width="7.9" stroke-linejoin="miter"/>
<text transform="translate(483 926.4) scale(1 1.048)" font-size="59.6" fill="#000" stroke="#000" stroke-width="0.5">CP-GS,k=5</text>
<path d="M339.1 978.4H472" stroke="#ff0000" stroke-width="7.9" fill="none"/>
<path d="M388 976.4H427.8M407.9 956.5V996.3M392.49 960.99L423.31 991.81M392.49 991.81L423.31 960.99" fill="none" stroke="#ff0000" stroke-width="7.9"/>
<text transform="translate(483 1003.9) scale(1 1.048)" font-size="59.6" fill="#000" stroke="#000" stroke-width="0.5">Proposed,k=2</text>
<path d="M339.1 1055.9H472" stroke="#ff0000" stroke-width="7.9" fill="none"/>
<rect x="393.9" y="1042" width="27.8" height="27.8" fill="none" stroke="#ff0000" stroke-width="7.9"/>
<text transform="translate(483 1081.4) scale(1 1.048)" font-size="59.6" fill="#000" stroke="#000" stroke-width="0.5">Proposed,k=3</text>
<path d="M339.1 1133.4H472" stroke="#ff0000" stroke-width="7.9" fill="none"/>
<polygon points="424.7,1133.4 421.47,1143.33 413.02,1149.47 402.58,1149.47 394.13,1143.33 390.9,1133.4 394.13,1123.47 402.58,1117.33 413.02,1117.33 421.47,1123.47" fill="none" stroke="#ff0000" stroke-width="7.9" stroke-linejoin="miter"/>
<text transform="translate(483 1158.9) scale(1 1.048)" font-size="59.6" fill="#000" stroke="#000" stroke-width="0.5">Proposed,k=4</text>
<path d="M339.1 1210.9H472" stroke="#ff0000" stroke-width="7.9" fill="none"/>
<polygon points="397.2,1190.9 431.9,1210.9 397.2,1230.9" fill="none" stroke="#ff0000" stroke-width="7.9" stroke-linejoin="miter" stroke-miterlimit="10"/>
<text transform="translate(483 1236.4) scale(1 1.048)" font-size="59.6" fill="#000" stroke="#000" stroke-width="0.5">Proposed,k=5</text>
<text transform="translate(200.35 1689.7) scale(1 1.06)" font-size="60.1" fill="#262626" stroke="#262626" stroke-width="0.5" text-anchor="middle">0</text>
<text transform="translate(363.29 1689.7) scale(1 1.06)" font-size="60.1" fill="#262626" stroke="#262626" stroke-width="0.5" text-anchor="middle">5</text>
<text transform="translate(527.22 1689.7) scale(1 1.06)" font-size="60.1" fill="#262626" stroke="#262626" stroke-width="0.5" text-anchor="middle">10</text>
<text transform="translate(690.16 1689.7) scale(1 1.06)" font-size="60.1" fill="#262626" stroke="#262626" stroke-width="0.5" text-anchor="middle">15</text>
<text transform="translate(853.1 1689.7) scale(1 1.06)" font-size="60.1" fill="#262626" stroke="#262626" stroke-width="0.5" text-anchor="middle">20</text>
<text transform="translate(1016.03 1689.7) scale(1 1.06)" font-size="60.1" fill="#262626" stroke="#262626" stroke-width="0.5" text-anchor="middle">25</text>
<text transform="translate(1178.97 1689.7) scale(1 1.06)" font-size="60.1" fill="#262626" stroke="#262626" stroke-width="0.5" text-anchor="middle">30</text>
<text transform="translate(1341.91 1689.7) scale(1 1.06)" font-size="60.1" fill="#262626" stroke="#262626" stroke-width="0.5" text-anchor="middle">35</text>
<text transform="translate(1504.84 1689.7) scale(1 1.06)" font-size="60.1" fill="#262626" stroke="#262626" stroke-width="0.5" text-anchor="middle">40</text>
<text transform="translate(1667.78 1689.7) scale(1 1.06)" font-size="60.1" fill="#262626" stroke="#262626" stroke-width="0.5" text-anchor="middle">45</text>
<text transform="translate(1830.71 1689.7) scale(1 1.06)" font-size="60.1" fill="#262626" stroke="#262626" stroke-width="0.5" text-anchor="middle">50</text>
<text transform="translate(1993.65 1689.7) scale(1 1.06)" font-size="60.1" fill="#262626" stroke="#262626" stroke-width="0.5" text-anchor="middle">55</text>
<text transform="translate(176 1628.9) scale(1 1.06)" font-size="60.1" fill="#262626" stroke="#262626" stroke-width="0.5" text-anchor="end">0</text>
<text transform="translate(176 1378.65) scale(1 1.06)" font-size="60.1" fill="#262626" stroke="#262626" stroke-width="0.5" text-anchor="end">1</text>
<text transform="translate(176 1128.4) scale(1 1.06)" font-size="60.1" fill="#262626" stroke="#262626" stroke-width="0.5" text-anchor="end">2</text>
<text transform="translate(176 878.15) scale(1 1.06)" font-size="60.1" fill="#262626" stroke="#262626" stroke-width="0.5" text-anchor="end">3</text>
<text transform="translate(176 627.9) scale(1 1.06)" font-size="60.1" fill="#262626" stroke="#262626" stroke-width="0.5" text-anchor="end">4</text>
<text transform="translate(176 377.65) scale(1 1.06)" font-size="60.1" fill="#262626" stroke="#262626" stroke-width="0.5" text-anchor="end">5</text>
<text transform="translate(176 127.4) scale(1 1.06)" font-size="60.1" fill="#262626" stroke="#262626" stroke-width="0.5" text-anchor="end">6</text>
<text x="203.1" y="98.3" font-size="72" fill="#262626" stroke="#fff" stroke-width="2.7">×</text>
<text transform="translate(250.8 89.7) scale(1 1.06)" font-size="60.1" fill="#262626" stroke="#262626" stroke-width="0.5">10</text>
<text transform="translate(317.3 62.3) scale(1 1.0)" font-size="48" fill="#262626" stroke="#262626" stroke-width="0.5">4</text>
<text transform="translate(1162.47 1803.4) scale(1 1.056)" font-size="89" fill="#262626" stroke="#262626" stroke-width="0.5" text-anchor="middle">Number of users</text>
<text transform="translate(103.2 854.15) rotate(-90) scale(1 1.056)" font-size="88.6" fill="#262626" stroke="#262626" stroke-width="0.5" text-anchor="middle">Number of complex multiplications</text>
</svg></body></html>
